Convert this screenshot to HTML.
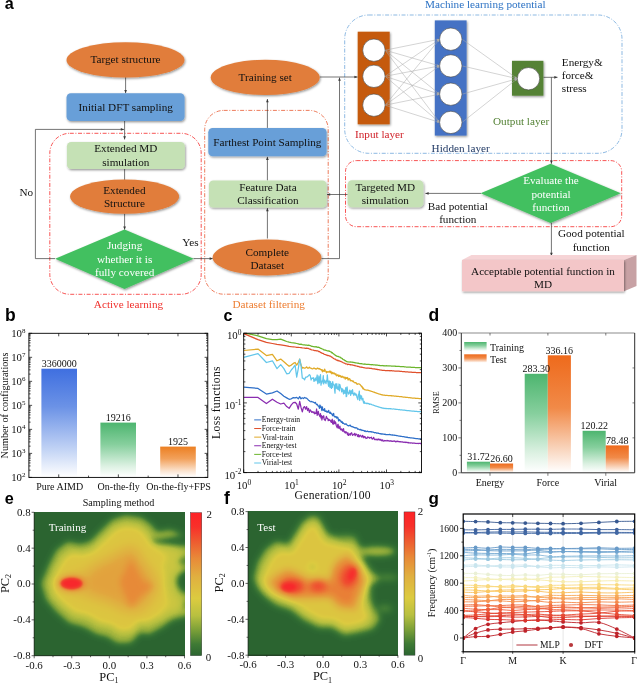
<!DOCTYPE html>
<html><head><meta charset="utf-8"><title>Figure</title>
<style>html,body{margin:0;padding:0;background:#fff}svg{display:block}text{font-family:"Liberation Serif",serif}.sans{font-family:"Liberation Sans",sans-serif;font-weight:bold}</style>
</head><body>
<svg width="637" height="685" viewBox="0 0 637 685">
<defs>
<filter id="sh" x="-10%" y="-20%" width="125%" height="150%"><feDropShadow dx="0.8" dy="1.2" stdDeviation="0.9" flood-color="#000" flood-opacity="0.42"/></filter>
<linearGradient id="gb" x1="0" y1="0" x2="0" y2="1"><stop offset="0" stop-color="#3f6fe0"/><stop offset="0.35" stop-color="#6b92e6"/><stop offset="0.75" stop-color="#c3d4f5"/><stop offset="1" stop-color="#ffffff"/></linearGradient>
<linearGradient id="gg" x1="0" y1="0" x2="0" y2="1"><stop offset="0" stop-color="#4db56f"/><stop offset="0.4" stop-color="#86cf9d"/><stop offset="0.8" stop-color="#dcf1e2"/><stop offset="1" stop-color="#ffffff"/></linearGradient>
<linearGradient id="go" x1="0" y1="0" x2="0" y2="1"><stop offset="0" stop-color="#ec7f22"/><stop offset="0.4" stop-color="#f2a15b"/><stop offset="0.8" stop-color="#fbe3cf"/><stop offset="1" stop-color="#ffffff"/></linearGradient>
<linearGradient id="go2" x1="0" y1="0" x2="0" y2="1"><stop offset="0" stop-color="#ee6a1c"/><stop offset="0.45" stop-color="#f18a48"/><stop offset="0.8" stop-color="#f9d5bd"/><stop offset="1" stop-color="#ffffff"/></linearGradient>
<linearGradient id="cbar" x1="0" y1="0" x2="0" y2="1">
<stop offset="0" stop-color="#fd2226"/><stop offset="0.10" stop-color="#f8302a"/><stop offset="0.20" stop-color="#ee5a30"/><stop offset="0.32" stop-color="#e88a38"/><stop offset="0.45" stop-color="#e0b040"/><stop offset="0.60" stop-color="#dccb40"/><stop offset="0.72" stop-color="#b8c040"/><stop offset="0.82" stop-color="#7ca038"/><stop offset="0.92" stop-color="#3f7a35"/><stop offset="1" stop-color="#2b6531"/></linearGradient>

<filter id="cm" filterUnits="userSpaceOnUse" x="0" y="490" width="440" height="190" color-interpolation-filters="sRGB"><feComponentTransfer><feFuncR type="table" tableValues="0.169 0.193 0.218 0.242 0.295 0.355 0.415 0.474 0.533 0.592 0.651 0.710 0.745 0.775 0.804 0.833 0.863 0.865 0.868 0.871 0.873 0.876 0.878 0.884 0.889 0.894 0.899 0.905 0.910 0.915 0.920 0.925 0.931 0.936 0.941 0.946 0.952 0.957 0.962 0.967 0.973"/><feFuncG type="table" tableValues="0.396 0.422 0.448 0.473 0.508 0.545 0.583 0.620 0.653 0.684 0.715 0.747 0.760 0.769 0.778 0.787 0.796 0.778 0.761 0.743 0.725 0.708 0.690 0.664 0.638 0.612 0.586 0.559 0.533 0.493 0.452 0.412 0.371 0.331 0.290 0.268 0.246 0.224 0.201 0.179 0.157"/><feFuncB type="table" tableValues="0.192 0.197 0.202 0.207 0.210 0.213 0.216 0.219 0.226 0.234 0.242 0.249 0.251 0.251 0.251 0.251 0.251 0.251 0.251 0.251 0.251 0.251 0.251 0.246 0.241 0.235 0.230 0.225 0.220 0.214 0.209 0.204 0.199 0.193 0.188 0.186 0.183 0.180 0.178 0.175 0.173"/></feComponentTransfer></filter>
<filter id="b7" filterUnits="userSpaceOnUse" x="0" y="480" width="440" height="205" color-interpolation-filters="sRGB"><feGaussianBlur stdDeviation="5.5"/></filter>
<filter id="b4" filterUnits="userSpaceOnUse" x="0" y="480" width="440" height="205" color-interpolation-filters="sRGB"><feGaussianBlur stdDeviation="3.2"/></filter>
<filter id="b2" filterUnits="userSpaceOnUse" x="0" y="480" width="440" height="205" color-interpolation-filters="sRGB"><feGaussianBlur stdDeviation="1.8"/></filter>
<clipPath id="ce"><rect x="34.2" y="512.3" width="150.3" height="143.4"/></clipPath>
<clipPath id="cf"><rect x="248.1" y="511.6" width="149.8" height="143.6"/></clipPath>
<clipPath id="cc"><rect x="243.7" y="333" width="177.8" height="139.5"/></clipPath>
<clipPath id="cg"><rect x="463.2" y="514" width="171.5" height="137.8"/></clipPath>
</defs>
<rect width="637" height="685" fill="#fff"/>

<g id="panelA">
<text class="sans" x="4.8" y="9.3" font-size="16.2" fill="#000">a</text>
<rect x="49.8" y="133.3" width="151.4" height="161" rx="20" ry="20" fill="none" stroke="#f52a2a" stroke-width="0.8" stroke-dasharray="4 1.6 1 1.6"/>
<rect x="204.7" y="110.4" width="123.5" height="183.8" rx="19" ry="19" fill="none" stroke="#e85a32" stroke-width="0.8" stroke-dasharray="4 1.6 1 1.6"/>
<rect x="345.5" y="160.6" width="276.2" height="66.1" rx="11" ry="11" fill="none" stroke="#f52a2a" stroke-width="0.8" stroke-dasharray="4 1.6 1 1.6"/>
<rect x="344.7" y="15" width="277.3" height="138.3" rx="24" ry="24" fill="none" stroke="#5b9bd5" stroke-width="0.7" stroke-dasharray="4 1.6 1 1.6"/>
<path d="M125.60,77.00 L125.60,93.20" fill="none" stroke="#3a3a3a" stroke-width="0.7"/>
<path d="M125.60,93.20 L124.26,90.00 L126.94,90.00Z" fill="#3a3a3a"/>
<path d="M124.60,121.00 L124.60,139.40" fill="none" stroke="#3a3a3a" stroke-width="0.7"/>
<path d="M124.60,139.40 L123.26,136.20 L125.94,136.20Z" fill="#3a3a3a"/>
<path d="M55.00,258.60 L35.40,258.60 L35.40,129.40 L124.00,129.40" fill="none" stroke="#3a3a3a" stroke-width="0.7"/>
<path d="M124.00,129.40 L120.80,130.74 L120.80,128.06Z" fill="#3a3a3a"/>
<line x1="124.60" y1="169.00" x2="124.60" y2="180.00" stroke="#3a3a3a" stroke-width="0.7" />
<path d="M124.60,213.50 L124.60,229.80" fill="none" stroke="#3a3a3a" stroke-width="0.7"/>
<path d="M124.60,229.80 L123.26,226.60 L125.94,226.60Z" fill="#3a3a3a"/>
<path d="M193.50,258.60 L212.80,258.60" fill="none" stroke="#3a3a3a" stroke-width="0.7"/>
<path d="M212.80,258.60 L209.60,259.94 L209.60,257.26Z" fill="#3a3a3a"/>
<path d="M267.40,238.50 L267.40,208.00" fill="none" stroke="#3a3a3a" stroke-width="0.7"/>
<path d="M267.40,208.00 L268.74,211.20 L266.06,211.20Z" fill="#3a3a3a"/>
<path d="M267.40,180.50 L267.40,156.80" fill="none" stroke="#3a3a3a" stroke-width="0.7"/>
<path d="M267.40,156.80 L268.74,160.00 L266.06,160.00Z" fill="#3a3a3a"/>
<path d="M267.40,127.90 L267.40,99.00" fill="none" stroke="#3a3a3a" stroke-width="0.7"/>
<path d="M267.40,99.00 L268.74,102.20 L266.06,102.20Z" fill="#3a3a3a"/>
<path d="M319.70,77.00 L357.60,77.00" fill="none" stroke="#3a3a3a" stroke-width="0.7"/>
<path d="M357.60,77.00 L354.40,78.34 L354.40,75.66Z" fill="#3a3a3a"/>
<path d="M321.30,258.60 L339.50,258.60 L339.50,77.60" fill="none" stroke="#3a3a3a" stroke-width="0.7"/>
<path d="M339.50,77.60 L340.84,80.80 L338.16,80.80Z" fill="#3a3a3a"/>
<path d="M347.80,194.50 L327.00,194.50" fill="none" stroke="#3a3a3a" stroke-width="0.7"/>
<path d="M327.00,194.50 L330.20,193.16 L330.20,195.84Z" fill="#3a3a3a"/>
<path d="M481.00,193.40 L425.40,193.40" fill="none" stroke="#3a3a3a" stroke-width="0.7"/>
<path d="M425.40,193.40 L428.60,192.06 L428.60,194.74Z" fill="#3a3a3a"/>
<path d="M543.40,77.30 L557.50,77.30" fill="none" stroke="#3a3a3a" stroke-width="0.7"/>
<path d="M557.50,77.30 L554.30,78.64 L554.30,75.96Z" fill="#3a3a3a"/>
<path d="M551.40,77.30 L551.40,163.80" fill="none" stroke="#3a3a3a" stroke-width="0.7"/>
<path d="M551.40,163.80 L550.06,160.60 L552.74,160.60Z" fill="#3a3a3a"/>
<path d="M551.40,222.60 L551.40,256.00" fill="none" stroke="#3a3a3a" stroke-width="0.7"/>
<path d="M551.40,256.00 L550.06,252.80 L552.74,252.80Z" fill="#3a3a3a"/>
<ellipse cx="125.5" cy="59.9" rx="59" ry="17.7" fill="#e17d3a" filter="url(#sh)"/>
<rect x="66.5" y="93.2" width="118.1" height="27.7" rx="4.3" fill="#689fd8" filter="url(#sh)"/>
<rect x="66.9" y="141.9" width="118" height="27" rx="4.3" fill="#c5e1b5" filter="url(#sh)"/>
<ellipse cx="124.6" cy="196.6" rx="54.5" ry="17.1" fill="#e17d3a" filter="url(#sh)"/>
<path d="M55.1,258.8 L124.5,229.6 L193.8,258.8 L124.5,289Z" fill="#43c060" filter="url(#sh)"/>
<ellipse cx="265.2" cy="77.4" rx="54.5" ry="17.7" fill="#e17d3a" filter="url(#sh)"/>
<rect x="208.3" y="127.9" width="118.3" height="28.3" rx="4.3" fill="#689fd8" filter="url(#sh)"/>
<rect x="208.9" y="180.5" width="117.7" height="27" rx="4.3" fill="#c5e1b5" filter="url(#sh)"/>
<ellipse cx="267" cy="257.5" rx="54.4" ry="17.9" fill="#e17d3a" filter="url(#sh)"/>
<rect x="347.6" y="180.3" width="75.8" height="27" rx="4.3" fill="#c5e1b5" filter="url(#sh)"/>
<path d="M480.6,193.3 L550.6,163.8 L620.8,193.3 L550.6,223Z" fill="#43c060" filter="url(#sh)"/>
<path d="M462,260 L471.5,255 L636.5,255 L624,260Z" fill="#f6d4d6"/>
<path d="M624,260 L636.5,255 L636.5,286 L624,291.3Z" fill="#c7a1a4"/>
<rect x="462" y="260" width="162" height="31.3" fill="#f3c6c8" filter="url(#sh)"/>
<rect x="357.7" y="31.7" width="32" height="92.6" fill="#c55a11" filter="url(#sh)"/>
<rect x="434.8" y="20.4" width="31.8" height="115.2" fill="#4472c4" filter="url(#sh)"/>
<rect x="512" y="60.8" width="31.4" height="34.9" fill="#548235" filter="url(#sh)"/>
<path d="M385.10,50.20 L439.60,39.20" fill="none" stroke="#a8a8a8" stroke-width="0.5"/>
<path d="M439.60,39.20 L437.27,40.78 L436.84,38.64Z" fill="#a8a8a8"/>
<path d="M385.10,50.20 L439.60,65.90" fill="none" stroke="#a8a8a8" stroke-width="0.5"/>
<path d="M439.60,65.90 L436.80,66.23 L437.40,64.13Z" fill="#a8a8a8"/>
<path d="M385.10,50.20 L439.60,94.20" fill="none" stroke="#a8a8a8" stroke-width="0.5"/>
<path d="M439.60,94.20 L436.89,93.42 L438.26,91.72Z" fill="#a8a8a8"/>
<path d="M385.10,50.20 L439.60,122.40" fill="none" stroke="#a8a8a8" stroke-width="0.5"/>
<path d="M439.60,122.40 L437.16,120.98 L438.91,119.67Z" fill="#a8a8a8"/>
<path d="M385.10,76.30 L439.60,39.20" fill="none" stroke="#a8a8a8" stroke-width="0.5"/>
<path d="M439.60,39.20 L438.07,41.57 L436.84,39.76Z" fill="#a8a8a8"/>
<path d="M385.10,76.30 L439.60,65.90" fill="none" stroke="#a8a8a8" stroke-width="0.5"/>
<path d="M439.60,65.90 L437.25,67.46 L436.84,65.31Z" fill="#a8a8a8"/>
<path d="M385.10,76.30 L439.60,94.20" fill="none" stroke="#a8a8a8" stroke-width="0.5"/>
<path d="M439.60,94.20 L436.79,94.43 L437.47,92.35Z" fill="#a8a8a8"/>
<path d="M385.10,76.30 L439.60,122.40" fill="none" stroke="#a8a8a8" stroke-width="0.5"/>
<path d="M439.60,122.40 L436.91,121.55 L438.32,119.89Z" fill="#a8a8a8"/>
<path d="M385.10,105.20 L439.60,39.20" fill="none" stroke="#a8a8a8" stroke-width="0.5"/>
<path d="M439.60,39.20 L438.79,41.90 L437.10,40.51Z" fill="#a8a8a8"/>
<path d="M385.10,105.20 L439.60,65.90" fill="none" stroke="#a8a8a8" stroke-width="0.5"/>
<path d="M439.60,65.90 L438.13,68.31 L436.85,66.53Z" fill="#a8a8a8"/>
<path d="M385.10,105.20 L439.60,94.20" fill="none" stroke="#a8a8a8" stroke-width="0.5"/>
<path d="M439.60,94.20 L437.27,95.78 L436.84,93.64Z" fill="#a8a8a8"/>
<path d="M385.10,105.20 L439.60,122.40" fill="none" stroke="#a8a8a8" stroke-width="0.5"/>
<path d="M439.60,122.40 L436.79,122.66 L437.45,120.58Z" fill="#a8a8a8"/>
<path d="M462.00,39.20 L517.30,78.70" fill="none" stroke="#a8a8a8" stroke-width="0.5"/>
<path d="M517.30,78.70 L514.55,78.08 L515.82,76.30Z" fill="#a8a8a8"/>
<path d="M462.00,65.90 L517.30,78.70" fill="none" stroke="#a8a8a8" stroke-width="0.5"/>
<path d="M517.30,78.70 L514.52,79.18 L515.01,77.05Z" fill="#a8a8a8"/>
<path d="M462.00,94.20 L517.30,78.70" fill="none" stroke="#a8a8a8" stroke-width="0.5"/>
<path d="M517.30,78.70 L515.09,80.45 L514.50,78.35Z" fill="#a8a8a8"/>
<path d="M462.00,122.40 L517.30,78.70" fill="none" stroke="#a8a8a8" stroke-width="0.5"/>
<path d="M517.30,78.70 L515.94,81.17 L514.58,79.46Z" fill="#a8a8a8"/>
<circle cx="373.9" cy="50.2" r="11.2" fill="#fff" stroke="#404040" stroke-width="0.6"/>
<circle cx="373.9" cy="76.3" r="11.2" fill="#fff" stroke="#404040" stroke-width="0.6"/>
<circle cx="373.9" cy="105.2" r="11.2" fill="#fff" stroke="#404040" stroke-width="0.6"/>
<circle cx="450.8" cy="39.2" r="11.2" fill="#fff" stroke="#404040" stroke-width="0.6"/>
<circle cx="450.8" cy="65.9" r="11.2" fill="#fff" stroke="#404040" stroke-width="0.6"/>
<circle cx="450.8" cy="94.2" r="11.2" fill="#fff" stroke="#404040" stroke-width="0.6"/>
<circle cx="450.8" cy="122.4" r="11.2" fill="#fff" stroke="#404040" stroke-width="0.6"/>
<circle cx="528.5" cy="78.7" r="11.2" fill="#fff" stroke="#404040" stroke-width="0.6"/>
<g>
<text x="125.5" y="63.0" font-size="11.2" fill="#111" text-anchor="middle" >Target structure</text>
<text x="125.7" y="111.1" font-size="11.2" fill="#111" text-anchor="middle" >Initial DFT sampling</text>
<text x="125.8" y="152.4" font-size="11.2" fill="#111" text-anchor="middle" >Extended MD</text>
<text x="125.8" y="165.7" font-size="11.2" fill="#111" text-anchor="middle" >simulation</text>
<text x="124.4" y="194.0" font-size="11.2" fill="#111" text-anchor="middle" >Extended</text>
<text x="124.4" y="207.4" font-size="11.2" fill="#111" text-anchor="middle" >Structure</text>
<text x="124.6" y="249.4" font-size="11.2" fill="#fff" text-anchor="middle" >Judging</text>
<text x="124.6" y="262.7" font-size="11.2" fill="#fff" text-anchor="middle" >whether it is</text>
<text x="124.6" y="275.9" font-size="11.2" fill="#fff" text-anchor="middle" >fully covered</text>
<text x="19.5" y="196.2" font-size="11.2" fill="#111" text-anchor="start" >No</text>
<text x="182.3" y="246.4" font-size="11.2" fill="#111" text-anchor="start" >Yes</text>
<text x="265.2" y="80.8" font-size="11.2" fill="#111" text-anchor="middle" >Training set</text>
<text x="267.4" y="145.8" font-size="11.2" fill="#111" text-anchor="middle" >Farthest Point Sampling</text>
<text x="267.9" y="190.8" font-size="11.2" fill="#111" text-anchor="middle" >Feature Data</text>
<text x="267.9" y="204.3" font-size="11.2" fill="#111" text-anchor="middle" >Classification</text>
<text x="267.3" y="255.8" font-size="11.2" fill="#111" text-anchor="middle" >Complete</text>
<text x="267.3" y="269.3" font-size="11.2" fill="#111" text-anchor="middle" >Dataset</text>
<text x="128.5" y="307.6" font-size="11.2" fill="#f0302c" text-anchor="middle" >Active learning</text>
<text x="268.7" y="307.6" font-size="11.2" fill="#ed7d31" text-anchor="middle" >Dataset filtering</text>
<text x="485.3" y="7.7" font-size="11.2" fill="#2c72c4" text-anchor="middle" >Machine learning potential</text>
<text x="355.0" y="137.6" font-size="11.2" fill="#d02028" text-anchor="start" >Input layer</text>
<text x="431.6" y="151.8" font-size="11.2" fill="#1f3864" text-anchor="start" >Hidden layer</text>
<text x="493.0" y="125.3" font-size="11.2" fill="#548235" text-anchor="start" >Output layer</text>
<text x="561.8" y="65.5" font-size="11.2" fill="#111" text-anchor="start" >Energy&amp;</text>
<text x="561.8" y="79.0" font-size="11.2" fill="#111" text-anchor="start" >force&amp;</text>
<text x="561.8" y="92.4" font-size="11.2" fill="#111" text-anchor="start" >stress</text>
<text x="385.3" y="190.8" font-size="11.2" fill="#111" text-anchor="middle" >Targeted MD</text>
<text x="385.3" y="204.2" font-size="11.2" fill="#111" text-anchor="middle" >simulation</text>
<text x="551.0" y="184.0" font-size="11.2" fill="#fff" text-anchor="middle" >Evaluate the</text>
<text x="551.0" y="198.0" font-size="11.2" fill="#fff" text-anchor="middle" >potential</text>
<text x="551.0" y="211.3" font-size="11.2" fill="#fff" text-anchor="middle" >function</text>
<text x="457.8" y="209.6" font-size="11.2" fill="#111" text-anchor="middle" >Bad potential</text>
<text x="457.8" y="222.8" font-size="11.2" fill="#111" text-anchor="middle" >function</text>
<text x="591.3" y="237.3" font-size="11.2" fill="#111" text-anchor="middle" >Good potential</text>
<text x="591.3" y="250.6" font-size="11.2" fill="#111" text-anchor="middle" >function</text>
<text x="543.0" y="274.6" font-size="11.2" fill="#111" text-anchor="middle" >Acceptable potential function in</text>
<text x="543.0" y="288.0" font-size="11.2" fill="#111" text-anchor="middle" >MD</text>
</g>
</g>
<g id="panelB">
<text class="sans" x="5" y="321" font-size="17.5" fill="#000">b</text>
<rect x="41.4" y="368.7" width="35.6" height="108.2" fill="url(#gb)"/>
<text x="59.2" y="366.7" font-size="10" fill="#111" text-anchor="middle" >3360000</text>
<text x="59.7" y="490.1" font-size="10" fill="#111" text-anchor="middle" >Pure AIMD</text>
<rect x="100.4" y="422.6" width="35.6" height="54.3" fill="url(#gg)"/>
<text x="118.2" y="420.6" font-size="10" fill="#111" text-anchor="middle" >19216</text>
<text x="118.7" y="490.1" font-size="10" fill="#111" text-anchor="middle" >On-the-fly</text>
<rect x="160.2" y="446.6" width="35.6" height="30.3" fill="url(#go)"/>
<text x="178.0" y="444.6" font-size="10" fill="#111" text-anchor="middle" >1925</text>
<text x="178.5" y="490.1" font-size="10" fill="#111" text-anchor="middle" >On-the-fly+FPS</text>
<rect x="28.9" y="333.3" width="178.9" height="144.09999999999997" fill="none" stroke="#000" stroke-width="0.9"/>
<text x="25.5" y="480.8" font-size="10.8" fill="#111" text-anchor="end" >10<tspan dy="-4.2" font-size="7">2</tspan></text>
<text x="25.5" y="456.8" font-size="10.8" fill="#111" text-anchor="end" >10<tspan dy="-4.2" font-size="7">3</tspan></text>
<text x="25.5" y="432.8" font-size="10.8" fill="#111" text-anchor="end" >10<tspan dy="-4.2" font-size="7">4</tspan></text>
<text x="25.5" y="408.8" font-size="10.8" fill="#111" text-anchor="end" >10<tspan dy="-4.2" font-size="7">5</tspan></text>
<text x="25.5" y="384.7" font-size="10.8" fill="#111" text-anchor="end" >10<tspan dy="-4.2" font-size="7">6</tspan></text>
<text x="25.5" y="360.7" font-size="10.8" fill="#111" text-anchor="end" >10<tspan dy="-4.2" font-size="7">7</tspan></text>
<text x="25.5" y="336.7" font-size="10.8" fill="#111" text-anchor="end" >10<tspan dy="-4.2" font-size="7">8</tspan></text>
<path d="M28.9,477.40h3.2 M207.8,477.40h-3.2 M28.9,470.17h1.7 M207.8,470.17h-1.7 M28.9,465.94h1.7 M207.8,465.94h-1.7 M28.9,462.94h1.7 M207.8,462.94h-1.7 M28.9,460.61h1.7 M207.8,460.61h-1.7 M28.9,458.71h1.7 M207.8,458.71h-1.7 M28.9,457.10h1.7 M207.8,457.10h-1.7 M28.9,455.71h1.7 M207.8,455.71h-1.7 M28.9,454.48h1.7 M207.8,454.48h-1.7 M28.9,453.38h3.2 M207.8,453.38h-3.2 M28.9,446.15h1.7 M207.8,446.15h-1.7 M28.9,441.92h1.7 M207.8,441.92h-1.7 M28.9,438.92h1.7 M207.8,438.92h-1.7 M28.9,436.60h1.7 M207.8,436.60h-1.7 M28.9,434.69h1.7 M207.8,434.69h-1.7 M28.9,433.09h1.7 M207.8,433.09h-1.7 M28.9,431.69h1.7 M207.8,431.69h-1.7 M28.9,430.47h1.7 M207.8,430.47h-1.7 M28.9,429.37h3.2 M207.8,429.37h-3.2 M28.9,422.14h1.7 M207.8,422.14h-1.7 M28.9,417.91h1.7 M207.8,417.91h-1.7 M28.9,414.91h1.7 M207.8,414.91h-1.7 M28.9,412.58h1.7 M207.8,412.58h-1.7 M28.9,410.68h1.7 M207.8,410.68h-1.7 M28.9,409.07h1.7 M207.8,409.07h-1.7 M28.9,407.68h1.7 M207.8,407.68h-1.7 M28.9,406.45h1.7 M207.8,406.45h-1.7 M28.9,405.35h3.2 M207.8,405.35h-3.2 M28.9,398.12h1.7 M207.8,398.12h-1.7 M28.9,393.89h1.7 M207.8,393.89h-1.7 M28.9,390.89h1.7 M207.8,390.89h-1.7 M28.9,388.56h1.7 M207.8,388.56h-1.7 M28.9,386.66h1.7 M207.8,386.66h-1.7 M28.9,385.05h1.7 M207.8,385.05h-1.7 M28.9,383.66h1.7 M207.8,383.66h-1.7 M28.9,382.43h1.7 M207.8,382.43h-1.7 M28.9,381.33h3.2 M207.8,381.33h-3.2 M28.9,374.10h1.7 M207.8,374.10h-1.7 M28.9,369.87h1.7 M207.8,369.87h-1.7 M28.9,366.87h1.7 M207.8,366.87h-1.7 M28.9,364.55h1.7 M207.8,364.55h-1.7 M28.9,362.64h1.7 M207.8,362.64h-1.7 M28.9,361.04h1.7 M207.8,361.04h-1.7 M28.9,359.64h1.7 M207.8,359.64h-1.7 M28.9,358.42h1.7 M207.8,358.42h-1.7 M28.9,357.32h3.2 M207.8,357.32h-3.2 M28.9,350.09h1.7 M207.8,350.09h-1.7 M28.9,345.86h1.7 M207.8,345.86h-1.7 M28.9,342.86h1.7 M207.8,342.86h-1.7 M28.9,340.53h1.7 M207.8,340.53h-1.7 M28.9,338.63h1.7 M207.8,338.63h-1.7 M28.9,337.02h1.7 M207.8,337.02h-1.7 M28.9,335.63h1.7 M207.8,335.63h-1.7 M28.9,334.40h1.7 M207.8,334.40h-1.7 M28.9,333.30h3.2 M207.8,333.30h-3.2 M58.72,477.4v-3 M58.72,333.3v3 M88.53,477.4v-1.8 M88.53,333.3v1.8 M118.35,477.4v-3 M118.35,333.3v3 M148.17,477.4v-1.8 M148.17,333.3v1.8 M177.98,477.4v-3 M177.98,333.3v3" stroke="#000" stroke-width="0.7" fill="none"/>
<text transform="translate(7.6,405.5) rotate(-90)" font-size="10.2" text-anchor="middle" fill="#111">Number of configurations</text>
<text x="118.5" y="505.6" font-size="10.1" fill="#111" text-anchor="middle" >Sampling method</text>
</g>
<g id="panelC">
<text class="sans" x="223.6" y="320.9" font-size="16" fill="#000">c</text>
<g clip-path="url(#cc)" fill="none" stroke-linejoin="round">
<path d="M243.7,332.8 L258.0,335.8 L266.4,338.7 L272.4,339.7 L277.0,339.6 L280.7,339.2 L283.9,340.4 L286.7,341.5 L289.1,342.2 L291.3,342.7 L293.3,342.9 L295.1,343.2 L296.7,343.5 L298.3,343.9 L299.7,344.4 L301.0,344.1 L302.3,344.6 L303.5,344.8 L304.6,344.9 L305.6,345.1 L306.6,345.0 L307.6,345.3 L308.5,345.2 L309.4,345.4 L310.2,345.6 L311.1,346.0 L311.8,346.4 L312.6,346.4 L313.3,346.7 L314.0,346.7 L314.7,346.8 L315.3,346.8 L316.0,346.6 L316.6,347.1 L317.2,347.2 L317.8,347.4 L318.3,347.2 L318.9,347.3 L319.4,347.7 L320.0,347.9 L320.5,348.3 L321.0,348.4 L321.5,348.7 L321.9,348.7 L322.4,349.0 L322.8,349.2 L323.3,349.3 L323.7,349.8 L324.2,349.8 L324.6,350.1 L325.1,350.0 L325.5,350.1 L326.0,350.3 L326.4,350.5 L326.9,350.7 L327.3,350.8 L327.8,350.8 L328.2,350.8 L328.7,350.9 L329.1,351.3 L329.6,351.1 L330.0,351.5 L330.5,351.8 L330.9,351.8 L331.4,352.3 L331.8,352.8 L332.3,352.6 L332.7,353.2 L333.2,353.6 L333.6,353.8 L334.1,354.4 L334.5,354.6 L335.0,354.8 L335.4,355.4 L335.9,355.6 L336.3,355.9 L336.8,356.2 L337.2,356.3 L337.7,356.4 L338.1,356.4 L338.6,356.7 L339.0,356.8 L339.5,357.0 L339.9,357.1 L340.4,357.4 L340.8,357.7 L341.3,358.2 L341.7,358.2 L342.2,358.5 L342.6,359.0 L343.1,359.5 L343.5,359.7 L344.0,359.8 L344.4,360.0 L344.9,360.6 L345.3,360.7 L345.8,360.9 L346.2,361.4 L346.7,361.6 L347.1,361.7 L347.6,361.8 L348.0,361.9 L348.5,362.0 L348.9,361.9 L349.4,362.0 L349.8,362.0 L350.3,361.9 L350.7,362.2 L351.2,362.2 L351.6,362.2 L352.1,362.1 L352.5,362.2 L353.0,362.5 L353.4,362.3 L353.9,362.5 L354.3,362.7 L354.8,362.5 L355.2,362.9 L355.7,362.9 L356.1,362.9 L356.6,363.0 L357.0,363.1 L357.5,363.1 L357.9,363.3 L358.4,363.2 L358.8,363.3 L359.3,363.5 L359.7,363.5 L360.2,363.5 L360.6,363.7 L361.1,363.8 L361.5,363.7 L362.0,363.7 L362.4,363.9 L362.9,364.0 L363.3,364.0 L363.8,364.2 L364.2,364.0 L364.7,364.3 L365.1,364.1 L365.6,364.2 L366.0,364.3 L366.5,364.4 L366.9,364.4 L367.4,364.4 L367.8,364.4 L368.3,364.4 L368.7,364.4 L369.2,364.4 L369.6,364.5 L370.1,364.5 L370.5,364.5 L371.0,364.6 L371.4,364.6 L371.9,364.8 L372.3,364.7 L372.8,364.7 L373.2,364.8 L373.7,364.8 L374.1,364.9 L374.6,364.9 L375.0,365.0 L375.5,365.1 L375.9,364.9 L376.4,365.0 L376.8,365.2 L377.3,365.2 L377.7,365.2 L378.2,365.3 L378.6,365.4 L379.1,365.4 L379.5,365.4 L380.0,365.6 L380.4,365.5 L380.9,365.5 L381.3,365.6 L381.8,365.6 L382.2,365.6 L382.7,365.5 L383.1,365.7 L383.6,365.8 L384.0,365.7 L384.5,365.8 L384.9,365.8 L385.4,365.8 L385.8,365.9 L386.3,365.7 L386.7,365.8 L387.2,365.8 L387.6,365.9 L388.1,365.9 L388.5,365.8 L389.0,366.0 L389.4,365.9 L389.9,366.0 L390.3,365.9 L390.8,366.0 L391.2,366.1 L391.7,366.0 L392.1,366.1 L392.6,366.1 L393.0,366.1 L393.5,366.1 L393.9,366.2 L394.4,366.2 L394.8,366.2 L395.3,366.3 L395.7,366.2 L396.2,366.3 L396.6,366.3 L397.1,366.3 L397.5,366.4 L398.0,366.4 L398.4,366.4 L398.9,366.4 L399.3,366.4 L399.8,366.5 L400.2,366.5 L400.7,366.5 L401.1,366.6 L401.6,366.7 L402.0,366.7 L402.5,366.7 L402.9,366.7 L403.4,366.7 L403.8,366.7 L404.3,366.8 L404.7,366.9 L405.2,366.8 L405.6,366.9 L406.1,367.0 L406.5,367.0 L407.0,367.0 L407.4,367.0 L407.9,367.0 L408.3,367.1 L408.8,367.1 L409.2,367.1 L409.7,367.2 L410.1,367.2 L410.6,367.2 L411.0,367.3 L411.5,367.3 L411.9,367.3 L412.4,367.3 L412.8,367.4 L413.3,367.4 L413.7,367.4 L414.2,367.4 L414.6,367.4 L415.1,367.5 L415.5,367.5 L416.0,367.5 L416.4,367.5 L416.9,367.6 L417.3,367.6 L417.8,367.6 L418.2,367.6 L418.7,367.6 L419.1,367.6 L419.6,367.7 L420.0,367.7 L420.5,367.7 L420.9,367.7 L421.4,367.7 L421.8,367.7" stroke="#6cb52c" stroke-width="1.25"/>
<path d="M243.7,333.7 L258.0,339.6 L266.4,342.3 L272.4,343.5 L277.0,344.4 L280.7,344.9 L283.9,345.4 L286.7,345.8 L289.1,346.3 L291.3,346.7 L293.3,346.8 L295.1,347.0 L296.7,347.3 L298.3,347.3 L299.7,347.5 L301.0,347.7 L302.3,347.9 L303.5,348.0 L304.6,348.2 L305.6,348.4 L306.6,348.1 L307.6,348.3 L308.5,348.4 L309.4,349.1 L310.2,349.1 L311.1,349.6 L311.8,349.8 L312.6,350.0 L313.3,350.1 L314.0,350.3 L314.7,350.7 L315.3,350.5 L316.0,350.7 L316.6,350.9 L317.2,350.9 L317.8,350.9 L318.3,351.2 L318.9,351.7 L319.4,351.5 L320.0,352.0 L320.5,352.4 L321.0,352.7 L321.5,352.8 L321.9,353.2 L322.4,353.3 L322.8,353.3 L323.3,353.5 L323.7,353.9 L324.2,354.3 L324.6,354.3 L325.1,354.5 L325.5,354.7 L326.0,354.8 L326.4,355.1 L326.9,355.2 L327.3,355.5 L327.8,355.3 L328.2,355.7 L328.7,355.7 L329.1,355.6 L329.6,356.1 L330.0,356.2 L330.5,356.1 L330.9,356.5 L331.4,356.9 L331.8,357.1 L332.3,357.5 L332.7,357.8 L333.2,358.1 L333.6,358.4 L334.1,358.8 L334.5,359.0 L335.0,359.2 L335.4,359.2 L335.9,359.8 L336.3,360.1 L336.8,360.1 L337.2,360.2 L337.7,360.7 L338.1,360.3 L338.6,360.7 L339.0,361.0 L339.5,360.8 L339.9,361.1 L340.4,361.4 L340.8,361.4 L341.3,361.7 L341.7,361.9 L342.2,362.0 L342.6,362.3 L343.1,362.6 L343.5,362.8 L344.0,363.0 L344.4,363.2 L344.9,363.3 L345.3,363.6 L345.8,363.9 L346.2,363.9 L346.7,364.0 L347.1,364.1 L347.6,364.6 L348.0,364.4 L348.5,364.4 L348.9,364.2 L349.4,364.5 L349.8,364.6 L350.3,364.8 L350.7,364.7 L351.2,364.8 L351.6,364.9 L352.1,364.8 L352.5,365.1 L353.0,365.2 L353.4,365.2 L353.9,365.5 L354.3,365.6 L354.8,365.4 L355.2,365.6 L355.7,365.8 L356.1,365.9 L356.6,366.0 L357.0,366.0 L357.5,366.4 L357.9,366.5 L358.4,366.4 L358.8,366.5 L359.3,366.9 L359.7,366.9 L360.2,367.1 L360.6,367.1 L361.1,367.1 L361.5,367.3 L362.0,367.1 L362.4,367.4 L362.9,367.5 L363.3,367.6 L363.8,367.6 L364.2,367.7 L364.7,367.8 L365.1,367.9 L365.6,368.0 L366.0,368.0 L366.5,368.0 L366.9,368.1 L367.4,368.1 L367.8,368.0 L368.3,368.1 L368.7,368.2 L369.2,368.2 L369.6,368.3 L370.1,368.3 L370.5,368.4 L371.0,368.4 L371.4,368.4 L371.9,368.6 L372.3,368.7 L372.8,368.8 L373.2,368.8 L373.7,368.9 L374.1,368.9 L374.6,368.9 L375.0,369.1 L375.5,369.1 L375.9,369.3 L376.4,369.3 L376.8,369.2 L377.3,369.4 L377.7,369.7 L378.2,369.6 L378.6,369.6 L379.1,369.7 L379.5,369.9 L380.0,369.9 L380.4,370.0 L380.9,370.1 L381.3,370.1 L381.8,370.2 L382.2,370.3 L382.7,370.4 L383.1,370.4 L383.6,370.4 L384.0,370.4 L384.5,370.4 L384.9,370.5 L385.4,370.5 L385.8,370.6 L386.3,370.6 L386.7,370.6 L387.2,370.5 L387.6,370.7 L388.1,370.6 L388.5,370.6 L389.0,370.6 L389.4,370.8 L389.9,370.7 L390.3,370.7 L390.8,370.8 L391.2,370.7 L391.7,370.7 L392.1,370.8 L392.6,370.8 L393.0,370.9 L393.5,370.9 L393.9,370.9 L394.4,371.0 L394.8,371.0 L395.3,371.0 L395.7,371.0 L396.2,371.0 L396.6,371.1 L397.1,371.1 L397.5,371.1 L398.0,371.2 L398.4,371.2 L398.9,371.2 L399.3,371.2 L399.8,371.3 L400.2,371.4 L400.7,371.4 L401.1,371.4 L401.6,371.4 L402.0,371.5 L402.5,371.6 L402.9,371.6 L403.4,371.6 L403.8,371.6 L404.3,371.7 L404.7,371.7 L405.2,371.8 L405.6,371.8 L406.1,371.8 L406.5,371.8 L407.0,371.9 L407.4,371.9 L407.9,371.9 L408.3,372.0 L408.8,372.0 L409.2,372.0 L409.7,372.1 L410.1,372.1 L410.6,372.2 L411.0,372.2 L411.5,372.2 L411.9,372.3 L412.4,372.3 L412.8,372.3 L413.3,372.3 L413.7,372.3 L414.2,372.4 L414.6,372.4 L415.1,372.4 L415.5,372.4 L416.0,372.5 L416.4,372.5 L416.9,372.5 L417.3,372.5 L417.8,372.6 L418.2,372.6 L418.7,372.6 L419.1,372.6 L419.6,372.6 L420.0,372.7 L420.5,372.7 L420.9,372.7 L421.4,372.7 L421.8,372.7" stroke="#e0502c" stroke-width="1.25"/>
<path d="M243.7,350.5 L258.0,349.1 L266.4,355.6 L272.4,354.3 L277.0,360.8 L280.7,359.1 L283.9,361.7 L286.7,364.3 L289.1,366.3 L291.3,365.1 L293.3,363.4 L295.1,362.5 L296.7,365.1 L298.3,362.5 L299.7,359.1 L301.0,365.1 L302.3,368.1 L303.5,367.7 L304.6,368.2 L305.6,367.9 L306.6,366.8 L307.6,368.1 L308.5,368.1 L309.4,367.1 L310.2,368.1 L311.1,368.1 L311.8,368.7 L312.6,368.9 L313.3,368.5 L314.0,367.9 L314.7,368.5 L315.3,368.5 L316.0,369.2 L316.6,368.9 L317.2,368.3 L317.8,368.0 L318.3,368.8 L318.9,368.6 L319.4,368.5 L320.0,369.4 L320.5,369.2 L321.0,369.8 L321.5,370.2 L321.9,369.7 L322.4,371.8 L322.8,370.0 L323.3,371.2 L323.7,370.6 L324.2,371.4 L324.6,369.1 L325.1,370.3 L325.5,371.1 L326.0,371.5 L326.4,372.8 L326.9,371.5 L327.3,372.2 L327.8,371.9 L328.2,372.1 L328.7,371.8 L329.1,371.4 L329.6,372.0 L330.0,371.0 L330.5,372.7 L330.9,371.3 L331.4,372.4 L331.8,373.8 L332.3,372.4 L332.7,372.8 L333.2,373.8 L333.6,373.2 L334.1,372.8 L334.5,373.8 L335.0,374.2 L335.4,374.5 L335.9,373.7 L336.3,375.7 L336.8,375.8 L337.2,374.9 L337.7,375.3 L338.1,375.0 L338.6,376.5 L339.0,375.2 L339.5,376.3 L339.9,375.7 L340.4,375.7 L340.8,376.8 L341.3,377.3 L341.7,376.5 L342.2,376.1 L342.6,377.2 L343.1,376.7 L343.5,377.1 L344.0,378.0 L344.4,377.9 L344.9,377.0 L345.3,379.1 L345.8,377.7 L346.2,378.4 L346.7,377.7 L347.1,378.3 L347.6,377.5 L348.0,379.9 L348.5,379.9 L348.9,378.6 L349.4,378.7 L349.8,378.9 L350.3,380.8 L350.7,380.1 L351.2,380.6 L351.6,380.7 L352.1,381.1 L352.5,380.8 L353.0,381.7 L353.4,381.1 L353.9,382.1 L354.3,382.5 L354.8,382.8 L355.2,382.7 L355.7,382.6 L356.1,383.3 L356.6,383.2 L357.0,384.4 L357.5,384.2 L357.9,383.9 L358.4,383.9 L358.8,383.9 L359.3,384.0 L359.7,384.3 L360.2,384.7 L360.6,385.2 L361.1,385.7 L361.5,386.8 L362.0,386.4 L362.4,387.3 L362.9,388.9 L363.3,388.0 L363.8,388.9 L364.2,389.5 L364.7,389.7 L365.1,389.9 L365.6,389.8 L366.0,390.0 L366.5,390.0 L366.9,390.2 L367.4,390.0 L367.8,390.2 L368.3,390.4 L368.7,390.4 L369.2,390.6 L369.6,390.8 L370.1,390.8 L370.5,391.1 L371.0,391.2 L371.4,391.3 L371.9,391.5 L372.3,391.6 L372.8,391.7 L373.2,391.9 L373.7,392.1 L374.1,392.2 L374.6,392.4 L375.0,392.6 L375.5,392.7 L375.9,392.9 L376.4,393.2 L376.8,393.2 L377.3,393.4 L377.7,393.5 L378.2,393.8 L378.6,393.8 L379.1,394.0 L379.5,394.1 L380.0,394.2 L380.4,394.4 L380.9,394.4 L381.3,394.7 L381.8,394.8 L382.2,394.7 L382.7,395.0 L383.1,395.0 L383.6,395.2 L384.0,395.2 L384.5,395.2 L384.9,395.3 L385.4,395.5 L385.8,395.4 L386.3,395.4 L386.7,395.4 L387.2,395.4 L387.6,395.5 L388.1,395.6 L388.5,395.6 L389.0,395.6 L389.4,395.7 L389.9,395.6 L390.3,395.6 L390.8,395.7 L391.2,395.8 L391.7,395.7 L392.1,395.8 L392.6,395.9 L393.0,395.9 L393.5,395.9 L393.9,396.0 L394.4,396.0 L394.8,396.1 L395.3,396.1 L395.7,396.1 L396.2,396.2 L396.6,396.3 L397.1,396.3 L397.5,396.3 L398.0,396.4 L398.4,396.4 L398.9,396.5 L399.3,396.6 L399.8,396.6 L400.2,396.6 L400.7,396.7 L401.1,396.7 L401.6,396.7 L402.0,396.8 L402.5,396.9 L402.9,397.0 L403.4,397.0 L403.8,397.0 L404.3,397.1 L404.7,397.2 L405.2,397.2 L405.6,397.3 L406.1,397.3 L406.5,397.3 L407.0,397.4 L407.4,397.4 L407.9,397.5 L408.3,397.6 L408.8,397.6 L409.2,397.6 L409.7,397.7 L410.1,397.7 L410.6,397.8 L411.0,397.9 L411.5,397.9 L411.9,398.0 L412.4,398.0 L412.8,398.0 L413.3,398.1 L413.7,398.1 L414.2,398.1 L414.6,398.2 L415.1,398.2 L415.5,398.3 L416.0,398.3 L416.4,398.3 L416.9,398.4 L417.3,398.4 L417.8,398.4 L418.2,398.4 L418.7,398.5 L419.1,398.5 L419.6,398.5 L420.0,398.5 L420.5,398.6 L420.9,398.6 L421.4,398.6 L421.8,398.6" stroke="#e0aa28" stroke-width="1.25"/>
<path d="M243.7,357.4 L258.0,353.6 L266.4,362.5 L272.4,360.8 L277.0,368.6 L280.7,364.6 L283.9,368.6 L286.7,373.8 L289.1,373.3 L291.3,370.0 L293.3,367.7 L295.1,365.1 L296.7,377.2 L298.3,368.6 L299.7,359.1 L301.0,365.1 L302.3,378.1 L303.5,378.4 L304.6,379.8 L305.6,377.2 L306.6,377.2 L307.6,376.4 L308.5,375.7 L309.4,374.7 L310.2,375.5 L311.1,380.0 L311.8,378.1 L312.6,378.4 L313.3,377.7 L314.0,381.4 L314.7,380.1 L315.3,378.0 L316.0,380.8 L316.6,378.2 L317.2,375.0 L317.8,383.7 L318.3,380.6 L318.9,376.0 L319.4,382.9 L320.0,380.7 L320.5,374.6 L321.0,385.1 L321.5,381.1 L321.9,383.1 L322.4,381.0 L322.8,380.0 L323.3,375.6 L323.7,383.9 L324.2,381.0 L324.6,380.1 L325.1,382.3 L325.5,381.6 L326.0,383.6 L326.4,380.4 L326.9,381.6 L327.3,374.9 L327.8,380.5 L328.2,384.1 L328.7,386.3 L329.1,380.9 L329.6,381.8 L330.0,387.5 L330.5,381.6 L330.9,385.2 L331.4,388.4 L331.8,383.5 L332.3,387.5 L332.7,381.7 L333.2,384.9 L333.6,384.3 L334.1,385.2 L334.5,388.8 L335.0,393.1 L335.4,383.8 L335.9,384.5 L336.3,388.1 L336.8,383.7 L337.2,388.7 L337.7,389.2 L338.1,387.0 L338.6,389.7 L339.0,384.0 L339.5,390.8 L339.9,384.6 L340.4,387.2 L340.8,387.8 L341.3,388.4 L341.7,391.9 L342.2,389.9 L342.6,388.8 L343.1,391.3 L343.5,394.0 L344.0,390.2 L344.4,391.2 L344.9,393.4 L345.3,391.2 L345.8,387.7 L346.2,396.7 L346.7,396.1 L347.1,386.8 L347.6,391.4 L348.0,392.6 L348.5,394.1 L348.9,393.6 L349.4,391.7 L349.8,390.2 L350.3,393.0 L350.7,395.3 L351.2,390.8 L351.6,391.2 L352.1,393.6 L352.5,389.6 L353.0,393.5 L353.4,393.3 L353.9,395.5 L354.3,393.2 L354.8,393.0 L355.2,394.2 L355.7,395.2 L356.1,394.0 L356.6,395.6 L357.0,397.4 L357.5,398.4 L357.9,399.7 L358.4,394.5 L358.8,395.4 L359.3,391.1 L359.7,400.5 L360.2,395.1 L360.6,397.0 L361.1,398.7 L361.5,395.8 L362.0,399.9 L362.4,399.9 L362.9,398.4 L363.3,401.8 L363.8,403.2 L364.2,401.3 L364.7,403.3 L365.1,403.0 L365.6,403.2 L366.0,403.3 L366.5,403.6 L366.9,403.2 L367.4,403.6 L367.8,403.4 L368.3,403.8 L368.7,403.5 L369.2,403.8 L369.6,404.3 L370.1,404.2 L370.5,404.2 L371.0,404.2 L371.4,404.4 L371.9,404.7 L372.3,404.9 L372.8,405.0 L373.2,405.1 L373.7,405.2 L374.1,405.5 L374.6,405.5 L375.0,405.7 L375.5,406.0 L375.9,406.0 L376.4,406.2 L376.8,406.3 L377.3,406.5 L377.7,406.7 L378.2,406.8 L378.6,406.8 L379.1,407.1 L379.5,407.2 L380.0,407.3 L380.4,407.6 L380.9,407.6 L381.3,407.7 L381.8,407.9 L382.2,408.1 L382.7,408.0 L383.1,408.2 L383.6,408.2 L384.0,408.5 L384.5,408.3 L384.9,408.5 L385.4,408.4 L385.8,408.6 L386.3,408.7 L386.7,408.4 L387.2,408.5 L387.6,408.6 L388.1,408.6 L388.5,408.6 L389.0,408.8 L389.4,408.7 L389.9,408.6 L390.3,408.8 L390.8,408.7 L391.2,408.9 L391.7,408.8 L392.1,408.9 L392.6,409.0 L393.0,409.0 L393.5,408.9 L393.9,409.0 L394.4,409.2 L394.8,409.2 L395.3,409.2 L395.7,409.3 L396.2,409.3 L396.6,409.4 L397.1,409.3 L397.5,409.4 L398.0,409.5 L398.4,409.6 L398.9,409.6 L399.3,409.5 L399.8,409.7 L400.2,409.8 L400.7,409.9 L401.1,409.8 L401.6,409.9 L402.0,409.9 L402.5,410.0 L402.9,410.0 L403.4,410.1 L403.8,410.1 L404.3,410.2 L404.7,410.2 L405.2,410.3 L405.6,410.3 L406.1,410.3 L406.5,410.5 L407.0,410.5 L407.4,410.5 L407.9,410.6 L408.3,410.7 L408.8,410.7 L409.2,410.7 L409.7,410.8 L410.1,410.9 L410.6,410.9 L411.0,410.9 L411.5,411.0 L411.9,411.0 L412.4,411.1 L412.8,411.1 L413.3,411.2 L413.7,411.2 L414.2,411.2 L414.6,411.3 L415.1,411.3 L415.5,411.3 L416.0,411.4 L416.4,411.4 L416.9,411.4 L417.3,411.5 L417.8,411.5 L418.2,411.5 L418.7,411.6 L419.1,411.6 L419.6,411.6 L420.0,411.6 L420.5,411.7 L420.9,411.7 L421.4,411.7 L421.8,411.7" stroke="#62c6ea" stroke-width="1.25"/>
<path d="M243.7,387.2 L258.0,388.4 L266.4,394.1 L272.4,392.8 L277.0,391.0 L280.7,393.6 L283.9,396.2 L286.7,397.9 L289.1,399.3 L291.3,398.8 L293.3,397.6 L295.1,397.9 L296.7,397.4 L298.3,398.8 L299.7,396.7 L301.0,398.8 L302.3,397.8 L303.5,398.5 L304.6,397.4 L305.6,398.1 L306.6,398.2 L307.6,399.1 L308.5,400.2 L309.4,400.8 L310.2,401.5 L311.1,401.8 L311.8,401.4 L312.6,402.0 L313.3,402.1 L314.0,402.5 L314.7,403.0 L315.3,402.3 L316.0,403.8 L316.6,404.5 L317.2,404.2 L317.8,405.4 L318.3,406.2 L318.9,406.1 L319.4,408.3 L320.0,405.0 L320.5,407.3 L321.0,406.4 L321.5,409.0 L321.9,410.7 L322.4,406.9 L322.8,409.4 L323.3,410.0 L323.7,409.6 L324.2,410.6 L324.6,408.6 L325.1,411.4 L325.5,411.3 L326.0,411.2 L326.4,411.0 L326.9,412.2 L327.3,411.4 L327.8,412.2 L328.2,411.7 L328.7,410.4 L329.1,412.4 L329.6,412.7 L330.0,413.4 L330.5,412.2 L330.9,413.2 L331.4,413.9 L331.8,413.8 L332.3,415.0 L332.7,415.8 L333.2,413.9 L333.6,413.5 L334.1,415.9 L334.5,416.8 L335.0,416.7 L335.4,417.0 L335.9,416.4 L336.3,416.7 L336.8,418.2 L337.2,417.4 L337.7,417.2 L338.1,418.2 L338.6,420.8 L339.0,420.8 L339.5,419.6 L339.9,420.0 L340.4,421.0 L340.8,420.8 L341.3,422.4 L341.7,421.9 L342.2,421.7 L342.6,423.4 L343.1,422.7 L343.5,423.5 L344.0,423.7 L344.4,423.8 L344.9,424.4 L345.3,424.2 L345.8,423.8 L346.2,423.9 L346.7,424.6 L347.1,425.0 L347.6,425.5 L348.0,425.6 L348.5,425.9 L348.9,425.7 L349.4,425.4 L349.8,425.6 L350.3,425.1 L350.7,426.0 L351.2,426.4 L351.6,426.6 L352.1,426.5 L352.5,426.6 L353.0,427.2 L353.4,427.0 L353.9,427.4 L354.3,427.5 L354.8,427.5 L355.2,428.1 L355.7,427.6 L356.1,427.8 L356.6,427.9 L357.0,428.1 L357.5,429.0 L357.9,429.3 L358.4,428.9 L358.8,429.2 L359.3,429.6 L359.7,429.6 L360.2,429.9 L360.6,429.3 L361.1,429.7 L361.5,430.1 L362.0,430.6 L362.4,430.3 L362.9,430.2 L363.3,430.5 L363.8,430.5 L364.2,430.6 L364.7,431.3 L365.1,430.8 L365.6,431.1 L366.0,431.7 L366.5,431.5 L366.9,431.3 L367.4,431.1 L367.8,431.4 L368.3,431.7 L368.7,431.6 L369.2,431.8 L369.6,431.6 L370.1,431.7 L370.5,431.7 L371.0,431.9 L371.4,432.1 L371.9,431.7 L372.3,432.0 L372.8,432.2 L373.2,432.1 L373.7,432.3 L374.1,432.5 L374.6,432.8 L375.0,432.7 L375.5,432.7 L375.9,432.6 L376.4,433.2 L376.8,433.0 L377.3,433.1 L377.7,433.0 L378.2,433.3 L378.6,433.2 L379.1,433.5 L379.5,433.6 L380.0,433.7 L380.4,433.8 L380.9,433.7 L381.3,434.1 L381.8,433.9 L382.2,433.8 L382.7,434.1 L383.1,434.1 L383.6,434.1 L384.0,434.2 L384.5,434.4 L384.9,434.2 L385.4,434.4 L385.8,434.6 L386.3,434.5 L386.7,434.5 L387.2,434.5 L387.6,434.5 L388.1,434.6 L388.5,434.7 L389.0,434.6 L389.4,434.4 L389.9,434.7 L390.3,434.7 L390.8,434.9 L391.2,434.8 L391.7,435.0 L392.1,435.2 L392.6,434.9 L393.0,435.0 L393.5,435.0 L393.9,435.0 L394.4,435.1 L394.8,435.4 L395.3,435.3 L395.7,435.3 L396.2,435.4 L396.6,435.7 L397.1,435.6 L397.5,435.7 L398.0,435.8 L398.4,436.0 L398.9,436.1 L399.3,436.1 L399.8,436.1 L400.2,436.2 L400.7,436.4 L401.1,436.4 L401.6,436.4 L402.0,436.5 L402.5,436.6 L402.9,436.6 L403.4,436.7 L403.8,436.7 L404.3,436.8 L404.7,436.8 L405.2,437.1 L405.6,437.1 L406.1,437.0 L406.5,437.3 L407.0,437.3 L407.4,437.2 L407.9,437.6 L408.3,437.6 L408.8,437.7 L409.2,437.6 L409.7,437.7 L410.1,437.8 L410.6,437.9 L411.0,437.9 L411.5,438.0 L411.9,437.9 L412.4,438.0 L412.8,438.1 L413.3,438.2 L413.7,438.2 L414.2,438.4 L414.6,438.4 L415.1,438.4 L415.5,438.5 L416.0,438.5 L416.4,438.6 L416.9,438.7 L417.3,438.7 L417.8,438.7 L418.2,438.8 L418.7,438.8 L419.1,438.9 L419.6,438.9 L420.0,438.9 L420.5,439.0 L420.9,438.9 L421.4,439.0 L421.8,439.0" stroke="#2e6fc8" stroke-width="1.25"/>
<path d="M243.7,397.4 L258.0,397.4 L266.4,403.5 L272.4,399.2 L277.0,402.3 L280.7,404.0 L283.9,403.1 L286.7,406.6 L289.1,408.3 L291.3,404.9 L293.3,402.6 L295.1,402.3 L296.7,404.0 L298.3,409.2 L299.7,401.4 L301.0,407.4 L302.3,411.8 L303.5,407.4 L304.6,406.6 L305.6,409.2 L306.6,406.7 L307.6,410.6 L308.5,408.4 L309.4,412.4 L310.2,409.9 L311.1,411.2 L311.8,412.3 L312.6,411.6 L313.3,412.8 L314.0,411.8 L314.7,413.9 L315.3,413.0 L316.0,413.4 L316.6,409.0 L317.2,415.4 L317.8,413.8 L318.3,411.3 L318.9,414.5 L319.4,415.4 L320.0,416.7 L320.5,413.6 L321.0,418.0 L321.5,415.7 L321.9,420.0 L322.4,416.3 L322.8,417.9 L323.3,416.6 L323.7,415.7 L324.2,419.4 L324.6,419.4 L325.1,420.6 L325.5,419.8 L326.0,417.9 L326.4,416.4 L326.9,418.2 L327.3,418.3 L327.8,418.3 L328.2,420.6 L328.7,420.3 L329.1,419.5 L329.6,420.3 L330.0,420.0 L330.5,420.8 L330.9,421.8 L331.4,422.4 L331.8,420.2 L332.3,419.2 L332.7,423.9 L333.2,422.3 L333.6,424.1 L334.1,420.3 L334.5,422.7 L335.0,423.6 L335.4,421.8 L335.9,423.5 L336.3,425.7 L336.8,426.6 L337.2,427.8 L337.7,424.7 L338.1,424.3 L338.6,427.4 L339.0,428.4 L339.5,427.8 L339.9,426.2 L340.4,429.4 L340.8,429.8 L341.3,429.8 L341.7,428.8 L342.2,430.2 L342.6,431.2 L343.1,429.8 L343.5,428.6 L344.0,431.6 L344.4,432.1 L344.9,431.8 L345.3,433.1 L345.8,431.6 L346.2,432.4 L346.7,432.3 L347.1,433.5 L347.6,434.8 L348.0,432.8 L348.5,435.3 L348.9,434.8 L349.4,434.1 L349.8,433.9 L350.3,435.2 L350.7,433.3 L351.2,433.5 L351.6,432.7 L352.1,434.3 L352.5,435.3 L353.0,434.6 L353.4,434.6 L353.9,434.1 L354.3,434.6 L354.8,433.3 L355.2,435.7 L355.7,434.5 L356.1,434.1 L356.6,434.5 L357.0,434.6 L357.5,436.2 L357.9,436.5 L358.4,434.6 L358.8,436.7 L359.3,436.8 L359.7,435.7 L360.2,435.2 L360.6,435.9 L361.1,436.1 L361.5,437.0 L362.0,436.6 L362.4,435.4 L362.9,437.2 L363.3,436.1 L363.8,437.9 L364.2,436.5 L364.7,437.0 L365.1,436.9 L365.6,437.2 L366.0,438.5 L366.5,438.3 L366.9,438.1 L367.4,438.0 L367.8,436.8 L368.3,437.5 L368.7,437.6 L369.2,437.4 L369.6,438.3 L370.1,437.7 L370.5,437.7 L371.0,437.6 L371.4,437.2 L371.9,438.7 L372.3,439.2 L372.8,438.6 L373.2,438.1 L373.7,437.3 L374.1,438.9 L374.6,439.5 L375.0,439.1 L375.5,439.5 L375.9,439.8 L376.4,439.7 L376.8,439.1 L377.3,439.9 L377.7,439.8 L378.2,439.0 L378.6,439.5 L379.1,439.2 L379.5,439.8 L380.0,440.1 L380.4,439.6 L380.9,439.3 L381.3,440.6 L381.8,440.3 L382.2,440.8 L382.7,439.9 L383.1,440.8 L383.6,441.1 L384.0,441.2 L384.5,440.5 L384.9,440.7 L385.4,440.6 L385.8,440.9 L386.3,440.9 L386.7,440.7 L387.2,440.3 L387.6,440.9 L388.1,440.6 L388.5,440.9 L389.0,440.8 L389.4,441.2 L389.9,441.1 L390.3,440.7 L390.8,441.0 L391.2,441.4 L391.7,440.8 L392.1,441.1 L392.6,441.3 L393.0,441.3 L393.5,441.2 L393.9,440.9 L394.4,440.9 L394.8,441.3 L395.3,441.3 L395.7,441.8 L396.2,441.2 L396.6,441.6 L397.1,441.6 L397.5,441.2 L398.0,441.4 L398.4,441.6 L398.9,441.5 L399.3,441.6 L399.8,441.8 L400.2,441.6 L400.7,441.9 L401.1,441.8 L401.6,441.8 L402.0,442.0 L402.5,441.9 L402.9,442.1 L403.4,442.3 L403.8,442.1 L404.3,442.2 L404.7,442.3 L405.2,442.2 L405.6,442.5 L406.1,442.2 L406.5,442.5 L407.0,442.4 L407.4,442.4 L407.9,442.8 L408.3,442.5 L408.8,442.9 L409.2,442.8 L409.7,442.9 L410.1,442.7 L410.6,443.0 L411.0,443.0 L411.5,442.9 L411.9,443.0 L412.4,443.3 L412.8,443.1 L413.3,443.0 L413.7,443.1 L414.2,443.2 L414.6,443.2 L415.1,443.3 L415.5,443.4 L416.0,443.3 L416.4,443.4 L416.9,443.5 L417.3,443.3 L417.8,443.5 L418.2,443.6 L418.7,443.4 L419.1,443.4 L419.6,443.4 L420.0,443.4 L420.5,443.6 L420.9,443.4 L421.4,443.6 L421.8,443.7" stroke="#8a2db0" stroke-width="1.25"/>
</g>
<rect x="243.7" y="333.2" width="177.8" height="139.40000000000003" fill="none" stroke="#000" stroke-width="0.9"/>
<text x="244.0" y="489.2" font-size="10.8" fill="#111" text-anchor="middle" >10<tspan dy="-4.6" font-size="7.5">0</tspan></text>
<text x="291.6" y="489.2" font-size="10.8" fill="#111" text-anchor="middle" >10<tspan dy="-4.6" font-size="7.5">1</tspan></text>
<text x="339.2" y="489.2" font-size="10.8" fill="#111" text-anchor="middle" >10<tspan dy="-4.6" font-size="7.5">2</tspan></text>
<text x="386.8" y="489.2" font-size="10.8" fill="#111" text-anchor="middle" >10<tspan dy="-4.6" font-size="7.5">3</tspan></text>
<text x="241.5" y="339.4" font-size="10.8" fill="#111" text-anchor="end" >10<tspan dy="-4.6" font-size="7.5">0</tspan></text>
<text x="241.5" y="409.1" font-size="10.8" fill="#111" text-anchor="end" >10<tspan dy="-4.6" font-size="7.5">-1</tspan></text>
<text x="241.5" y="478.8" font-size="10.8" fill="#111" text-anchor="end" >10<tspan dy="-4.6" font-size="7.5">-2</tspan></text>
<path d="M243.70,472.6v-3.2 M243.70,333.2v3.2 M258.03,472.6v-1.7 M258.03,333.2v1.7 M266.41,472.6v-1.7 M266.41,333.2v1.7 M272.36,472.6v-1.7 M272.36,333.2v1.7 M276.97,472.6v-1.7 M276.97,333.2v1.7 M280.74,472.6v-1.7 M280.74,333.2v1.7 M283.93,472.6v-1.7 M283.93,333.2v1.7 M286.69,472.6v-1.7 M286.69,333.2v1.7 M289.12,472.6v-1.7 M289.12,333.2v1.7 M291.30,472.6v-3.2 M291.30,333.2v3.2 M305.63,472.6v-1.7 M305.63,333.2v1.7 M314.01,472.6v-1.7 M314.01,333.2v1.7 M319.96,472.6v-1.7 M319.96,333.2v1.7 M324.57,472.6v-1.7 M324.57,333.2v1.7 M328.34,472.6v-1.7 M328.34,333.2v1.7 M331.53,472.6v-1.7 M331.53,333.2v1.7 M334.29,472.6v-1.7 M334.29,333.2v1.7 M336.72,472.6v-1.7 M336.72,333.2v1.7 M338.90,472.6v-3.2 M338.90,333.2v3.2 M353.23,472.6v-1.7 M353.23,333.2v1.7 M361.61,472.6v-1.7 M361.61,333.2v1.7 M367.56,472.6v-1.7 M367.56,333.2v1.7 M372.17,472.6v-1.7 M372.17,333.2v1.7 M375.94,472.6v-1.7 M375.94,333.2v1.7 M379.13,472.6v-1.7 M379.13,333.2v1.7 M381.89,472.6v-1.7 M381.89,333.2v1.7 M384.32,472.6v-1.7 M384.32,333.2v1.7 M386.50,472.6v-3.2 M386.50,333.2v3.2 M400.83,472.6v-1.7 M400.83,333.2v1.7 M409.21,472.6v-1.7 M409.21,333.2v1.7 M415.16,472.6v-1.7 M415.16,333.2v1.7 M419.77,472.6v-1.7 M419.77,333.2v1.7 M243.7,333.20h3.2 M421.5,333.20h-3.2 M243.7,381.92h1.7 M421.5,381.92h-1.7 M243.7,369.64h1.7 M421.5,369.64h-1.7 M243.7,360.94h1.7 M421.5,360.94h-1.7 M243.7,354.18h1.7 M421.5,354.18h-1.7 M243.7,348.66h1.7 M421.5,348.66h-1.7 M243.7,344.00h1.7 M421.5,344.00h-1.7 M243.7,339.95h1.7 M421.5,339.95h-1.7 M243.7,336.39h1.7 M421.5,336.39h-1.7 M243.7,402.90h3.2 M421.5,402.90h-3.2 M243.7,451.62h1.7 M421.5,451.62h-1.7 M243.7,439.34h1.7 M421.5,439.34h-1.7 M243.7,430.64h1.7 M421.5,430.64h-1.7 M243.7,423.88h1.7 M421.5,423.88h-1.7 M243.7,418.36h1.7 M421.5,418.36h-1.7 M243.7,413.70h1.7 M421.5,413.70h-1.7 M243.7,409.65h1.7 M421.5,409.65h-1.7 M243.7,406.09h1.7 M421.5,406.09h-1.7 M243.7,472.60h3.2 M421.5,472.60h-3.2" stroke="#000" stroke-width="0.7" fill="none"/>
<line x1="254.20" y1="419.90" x2="261.20" y2="419.90" stroke="#2e6fc8" stroke-width="1.0" />
<text x="261.8" y="422.3" font-size="7.6" fill="#111" text-anchor="start" >Energy-train</text>
<line x1="254.20" y1="428.52" x2="261.20" y2="428.52" stroke="#e0502c" stroke-width="1.0" />
<text x="261.8" y="430.9" font-size="7.6" fill="#111" text-anchor="start" >Force-train</text>
<line x1="254.20" y1="437.14" x2="261.20" y2="437.14" stroke="#e0aa28" stroke-width="1.0" />
<text x="261.8" y="439.5" font-size="7.6" fill="#111" text-anchor="start" >Viral-train</text>
<line x1="254.20" y1="445.76" x2="261.20" y2="445.76" stroke="#8a2db0" stroke-width="1.0" />
<text x="261.8" y="448.2" font-size="7.6" fill="#111" text-anchor="start" >Energy-test</text>
<line x1="254.20" y1="454.38" x2="261.20" y2="454.38" stroke="#6cb52c" stroke-width="1.0" />
<text x="261.8" y="456.8" font-size="7.6" fill="#111" text-anchor="start" >Force-test</text>
<line x1="254.20" y1="463.00" x2="261.20" y2="463.00" stroke="#62c6ea" stroke-width="1.0" />
<text x="261.8" y="465.4" font-size="7.6" fill="#111" text-anchor="start" >Virial-test</text>
<text transform="translate(219.6,402.5) rotate(-90)" font-size="11.6" text-anchor="middle" fill="#111" letter-spacing="0.35">Loss functions</text>
<text x="332.7" y="499.3" font-size="11.6" fill="#111" text-anchor="middle" letter-spacing="0.3">Generation/100</text>
</g>
<g id="panelD">
<text class="sans" x="428.5" y="320.7" font-size="17.5" fill="#000">d</text>
<rect x="466.9" y="461.7" width="23.1" height="10.7" fill="url(#gg)"/>
<rect x="490.0" y="463.5" width="23.1" height="8.9" fill="url(#go2)"/>
<text x="478.4" y="460.1" font-size="10" fill="#111" text-anchor="middle" >31.72</text>
<text x="501.6" y="461.9" font-size="10" fill="#111" text-anchor="middle" >26.60</text>
<text x="490.0" y="485.8" font-size="10" fill="#111" text-anchor="middle" >Energy</text>
<rect x="524.7" y="373.8" width="23.1" height="98.6" fill="url(#gg)"/>
<rect x="547.8" y="355.3" width="23.1" height="117.1" fill="url(#go2)"/>
<text x="536.2" y="372.2" font-size="10" fill="#111" text-anchor="middle" >283.30</text>
<text x="559.3" y="353.7" font-size="10" fill="#111" text-anchor="middle" >336.16</text>
<text x="547.8" y="485.8" font-size="10" fill="#111" text-anchor="middle" >Force</text>
<rect x="582.6" y="430.8" width="23.1" height="41.6" fill="url(#gg)"/>
<rect x="605.7" y="445.4" width="23.1" height="27.0" fill="url(#go2)"/>
<text x="594.2" y="429.2" font-size="10" fill="#111" text-anchor="middle" >120.22</text>
<text x="617.2" y="443.8" font-size="10" fill="#111" text-anchor="middle" >78.48</text>
<text x="605.7" y="485.8" font-size="10" fill="#111" text-anchor="middle" >Virial</text>
<path d="M461.3,333H634.7" fill="none" stroke="#8c8c8c" stroke-width="1.1"/>
<path d="M461.3,333V472.8H634.7V333" fill="none" stroke="#2e2e2e" stroke-width="1"/>
<text x="457.3" y="476.1" font-size="10" fill="#111" text-anchor="end" >0</text>
<text x="457.3" y="441.2" font-size="10" fill="#111" text-anchor="end" >100</text>
<text x="457.3" y="406.2" font-size="10" fill="#111" text-anchor="end" >200</text>
<text x="457.3" y="371.2" font-size="10" fill="#111" text-anchor="end" >300</text>
<text x="457.3" y="336.3" font-size="10" fill="#111" text-anchor="end" >400</text>
<path d="M461.3,472.80h-3 M461.3,455.32h-1.8 M461.3,437.85h-3 M634.7,437.85h-2.2 M461.3,420.38h-1.8 M461.3,402.90h-3 M634.7,402.90h-2.2 M461.3,385.42h-1.8 M461.3,367.95h-3 M634.7,367.95h-2.2 M461.3,350.47h-1.8 M461.3,333.00h-3 M490.00,472.8v3 M490.00,333v2.5 M547.90,472.8v3 M547.90,333v2.5 M605.80,472.8v3 M605.80,333v2.5" stroke="#444" stroke-width="0.7" fill="none"/>
<rect x="464.2" y="342" width="22.4" height="9" fill="url(#gg)"/>
<rect x="464.2" y="354.3" width="22.4" height="8.4" fill="url(#go2)"/>
<text x="490.0" y="351.0" font-size="10" fill="#111" text-anchor="start" >Training</text>
<text x="490.0" y="363.0" font-size="10" fill="#111" text-anchor="start" >Test</text>
<text transform="translate(438.8,402.5) rotate(-90)" font-size="8.2" text-anchor="middle" fill="#111">RMSE</text>
</g>
<g id="panelE">
<text class="sans" x="4.7" y="503.8" font-size="16.2" fill="#000">e</text>
<g clip-path="url(#ce)"><g filter="url(#cm)">
<rect x="14.200000000000003" y="492.29999999999995" width="190.3" height="183.4" fill="#000"/>
<g filter="url(#b4)">
<rect x="4.200000000000003" y="482.29999999999995" width="1" height="1" fill="#000" opacity="0"/>
<polygon points="41.1,583.4 48.8,565.3 56.4,550.2 67.7,541.7 80.3,544.2 89.8,541.7 101.9,529.6 112.4,519.6 125.5,515.3 141.8,517.8 152.1,525.6 156.4,531.9 170.7,530.1 190.8,538.2 190.8,614.8 172.0,620.1 161.9,627.3 148.6,634.4 140.6,632.6 131.0,642.7 117.4,643.2 106.9,636.6 97.3,634.4 84.0,627.1 69.2,623.1 56.1,611.5 46.3,600.0" fill="rgb(64,64,64)" opacity="1"/>
<polygon points="190.8,535.1 173.2,537.1 155.1,540.2 148.1,541.7 155.6,543.7 173.2,544.7 190.8,546.2" fill="rgb(0,0,0)" opacity="1"/>
<polygon points="190.8,567.8 179.7,573.8 176.2,582.1 180.3,590.4 190.8,595.4" fill="rgb(0,0,0)" opacity="1"/>
<polygon points="190.8,557.2 177.0,559.3 170.7,561.3 178.2,563.3 190.8,564.8" fill="rgb(15,15,15)" opacity="1"/>
<polygon points="190.8,601.5 178.2,604.5 190.8,608.0" fill="rgb(20,20,20)" opacity="1"/>
</g>
<g filter="url(#b4)">
<rect x="4.200000000000003" y="482.29999999999995" width="1" height="1" fill="#000" opacity="0"/>
<polygon points="155.6,545.7 170.7,548.2 182.3,552.2 177.0,562.0 180.8,568.3 173.2,573.8 172.2,583.4 175.7,593.4 181.8,600.5 179.7,609.5 167.7,614.0 158.1,620.1 150.6,583.4" fill="rgb(87,87,87)" opacity="1"/>
<polygon points="51.1,583.4 57.1,569.8 63.7,558.3 71.7,552.2 82.3,554.0 92.8,550.7 105.4,538.7 115.4,529.1 125.5,525.6 138.5,527.6 145.6,534.1 150.1,541.7 158.6,549.7 166.9,555.7 163.2,565.8 164.7,575.3 162.7,583.4 165.7,593.4 168.7,603.5 163.2,610.5 155.6,618.6 147.1,623.1 140.1,621.6 130.5,631.1 119.9,631.6 111.4,625.6 99.8,623.1 87.8,616.0 73.7,612.5 62.7,603.5 54.6,594.9" fill="rgb(110,110,110)" opacity="1"/>
</g>
<g filter="url(#b7)">
<rect x="4.200000000000003" y="482.29999999999995" width="1" height="1" fill="#000" opacity="0"/>
<polygon points="60.2,583.4 70.2,573.8 82.8,570.8 95.8,562.0 112.9,553.2 126.7,545.7 135.5,545.7 143.1,558.3 153.1,572.1 160.7,585.9 151.9,602.2 140.6,613.5 125.5,613.5 112.9,606.5 97.8,601.5 82.8,595.9 70.2,592.2" fill="rgb(135,135,135)" opacity="1"/>
<polygon points="81.5,583.4 94.8,567.8 112.9,559.5 126.7,551.2 134.3,548.2 140.6,559.5 150.6,573.8 155.1,585.9 148.1,600.5 138.0,608.0 125.5,608.0 112.9,600.5 97.8,595.4 85.8,590.4" fill="rgb(153,153,153)" opacity="1"/>
</g>
<g filter="url(#b4)">
<rect x="4.200000000000003" y="482.29999999999995" width="1" height="1" fill="#000" opacity="0"/>
<polygon points="131.0,558.3 142.6,579.9 153.6,585.9 141.1,595.9 131.0,608.0 123.0,591.4 119.4,581.4" fill="rgb(176,176,176)" opacity="1"/>
<ellipse cx="71.5" cy="583.4" rx="13.6" ry="7.5" fill="rgb(194,194,194)"/>
</g>
<g filter="url(#b2)">
<rect x="4.200000000000003" y="482.29999999999995" width="1" height="1" fill="#000" opacity="0"/>
<ellipse cx="71.5" cy="583.4" rx="10.6" ry="5.5" fill="rgb(247,247,247)"/>
<ellipse cx="71.5" cy="583.4" rx="7.5" ry="3.5" fill="rgb(255,255,255)"/>
</g>
</g></g>
<text x="30.6" y="515.7" font-size="10.9" fill="#111" text-anchor="end" >0.8</text>
<text x="30.6" y="551.5" font-size="10.9" fill="#111" text-anchor="end" >0.4</text>
<text x="30.6" y="587.4" font-size="10.9" fill="#111" text-anchor="end" >0.0</text>
<text x="30.6" y="623.2" font-size="10.9" fill="#111" text-anchor="end" >-0.4</text>
<text x="30.6" y="659.1" font-size="10.9" fill="#111" text-anchor="end" >-0.8</text>
<text x="34.2" y="668.8" font-size="10.9" fill="#111" text-anchor="middle" >-0.6</text>
<text x="71.8" y="668.8" font-size="10.9" fill="#111" text-anchor="middle" >-0.3</text>
<text x="109.4" y="668.8" font-size="10.9" fill="#111" text-anchor="middle" >0.0</text>
<text x="146.9" y="668.8" font-size="10.9" fill="#111" text-anchor="middle" >0.3</text>
<text x="184.5" y="668.8" font-size="10.9" fill="#111" text-anchor="middle" >0.6</text>
<path d="M34.2,512.30h-2.6 M34.2,530.22h-1.5 M34.2,548.15h-2.6 M34.2,566.07h-1.5 M34.2,584.00h-2.6 M34.2,601.92h-1.5 M34.2,619.85h-2.6 M34.2,637.77h-1.5 M34.2,655.70h-2.6 M34.20,655.6999999999999v2.6 M52.99,655.6999999999999v1.5 M71.78,655.6999999999999v2.6 M90.56,655.6999999999999v1.5 M109.35,655.6999999999999v2.6 M128.14,655.6999999999999v1.5 M146.93,655.6999999999999v2.6 M165.71,655.6999999999999v1.5 M184.50,655.6999999999999v2.6" stroke="#222" stroke-width="0.7" fill="none"/>
<path d="M34.2,512.3V655.6999999999999H184.5" fill="none" stroke="#1e2a1e" stroke-width="0.8"/>
<rect x="190.4" y="512.5999999999999" width="11.4" height="143.1" fill="url(#cbar)" stroke="#333" stroke-width="0.4"/>
<text x="206.6" y="518.4" font-size="10.9" fill="#111" text-anchor="start" >2</text>
<text x="205.8" y="660.8" font-size="10.9" fill="#111" text-anchor="start" >0</text>
<text x="48.7" y="531.2" font-size="11" fill="#fff" text-anchor="start" >Training</text>
<text x="108.9" y="680.7" font-size="12.4" fill="#111" text-anchor="middle" >PC<tspan dy="2.6" font-size="8">1</tspan></text>
<text transform="translate(8.600000000000001,583.5) rotate(-90)" font-size="12.4" text-anchor="middle" fill="#111">PC<tspan dy="2.6" font-size="8">2</tspan></text>
</g>
<g id="panelF">
<text class="sans" x="224" y="504" font-size="17.5" fill="#000">f</text>
<g clip-path="url(#cf)"><g filter="url(#cm)">
<rect x="228.1" y="491.6" width="189.8" height="183.6" fill="#000"/>
<g filter="url(#b4)">
<rect x="218.1" y="481.6" width="1" height="1" fill="#000" opacity="0"/>
<polygon points="253.5,578.4 257.8,562.3 265.6,549.2 276.2,541.4 288.2,543.9 294.3,534.6 302.3,521.8 311.3,515.5 318.9,517.0 323.9,526.8 328.9,534.4 340.0,536.4 355.1,538.9 361.1,547.4 363.6,558.8 371.1,570.6 380.2,578.4 371.1,586.1 370.6,598.5 374.2,608.5 380.2,618.6 373.1,629.1 360.1,632.4 344.5,635.4 331.4,627.8 318.9,627.8 303.5,620.3 291.0,610.3 275.9,605.2 265.6,597.4 257.8,589.2" fill="rgb(64,64,64)" opacity="1"/>
<ellipse cx="377.2" cy="551.2" rx="18.1" ry="4.5" fill="rgb(69,69,69)"/>
<ellipse cx="387.2" cy="577.3" rx="11.3" ry="2.3" fill="rgb(41,41,41)"/>
<ellipse cx="345.8" cy="538.2" rx="11.1" ry="3.3" fill="rgb(46,46,46)"/>
<ellipse cx="384.7" cy="608.5" rx="7.5" ry="3.0" fill="rgb(36,36,36)"/>
</g>
<g filter="url(#b4)">
<rect x="218.1" y="481.6" width="1" height="1" fill="#000" opacity="0"/>
<polygon points="261.6,578.9 266.6,566.8 272.6,556.2 280.2,550.2 291.7,552.0 298.8,540.7 305.8,529.4 311.8,524.1 316.9,526.1 320.4,533.9 325.4,541.4 339.0,544.7 351.5,546.7 356.1,553.7 357.8,562.3 364.6,572.3 370.1,578.4 363.6,584.4 363.1,598.5 365.6,608.5 369.1,617.0 365.1,622.6 357.6,625.1 345.0,627.6 333.4,620.6 320.9,620.1 306.8,612.5 294.3,603.0 279.7,597.9 269.6,592.2 264.1,585.9" fill="rgb(110,110,110)" opacity="1"/>
<ellipse cx="312.3" cy="567.0" rx="4.0" ry="3.0" fill="rgb(76,76,76)"/>
</g>
<g filter="url(#b4)">
<rect x="218.1" y="481.6" width="1" height="1" fill="#000" opacity="0"/>
<polygon points="267.1,581.9 274.7,573.8 287.2,567.8 296.3,570.8 308.1,577.3 322.4,576.8 329.4,578.4 330.9,569.3 336.0,559.3 347.5,553.2 360.1,565.3 366.6,580.9 361.6,595.9 355.6,611.0 339.0,609.0 328.4,599.0 319.4,599.5 293.2,599.5 274.7,591.9" fill="rgb(153,153,153)" opacity="1"/>
<polygon points="273.6,583.4 286.7,573.3 295.8,575.8 307.3,581.4 322.4,581.4 331.4,582.4 335.5,567.8 347.0,558.8 357.1,568.8 361.6,580.9 356.6,592.9 351.5,605.0 340.5,603.0 331.9,594.9 319.4,595.4 294.3,595.4 278.2,589.9" fill="rgb(184,184,184)" opacity="1"/>
</g>
<g filter="url(#b4)">
<rect x="218.1" y="481.6" width="1" height="1" fill="#000" opacity="0"/>
<ellipse cx="291.7" cy="586.4" rx="11.6" ry="6.3" fill="rgb(230,230,230)"/>
<ellipse cx="318.1" cy="586.4" rx="8.0" ry="4.8" fill="rgb(219,219,219)"/>
<ellipse cx="349.5" cy="576.3" rx="7.5" ry="11.1" fill="rgb(224,224,224)" transform="rotate(22 349.5 576.3)"/>
</g>
<g filter="url(#b2)">
<rect x="218.1" y="481.6" width="1" height="1" fill="#000" opacity="0"/>
<ellipse cx="289.2" cy="586.9" rx="7.0" ry="3.8" fill="rgb(255,255,255)"/>
<ellipse cx="351.5" cy="574.8" rx="3.3" ry="6.0" fill="rgb(247,247,247)" transform="rotate(22 351.5 574.8)"/>
</g>
</g></g>
<text x="244.5" y="515.0" font-size="10.9" fill="#111" text-anchor="end" >0.8</text>
<text x="244.5" y="550.9" font-size="10.9" fill="#111" text-anchor="end" >0.4</text>
<text x="244.5" y="586.8" font-size="10.9" fill="#111" text-anchor="end" >0.0</text>
<text x="244.5" y="622.7" font-size="10.9" fill="#111" text-anchor="end" >-0.4</text>
<text x="244.5" y="658.6" font-size="10.9" fill="#111" text-anchor="end" >-0.8</text>
<text x="248.1" y="668.3" font-size="10.9" fill="#111" text-anchor="middle" >-0.6</text>
<text x="285.6" y="668.3" font-size="10.9" fill="#111" text-anchor="middle" >-0.3</text>
<text x="323.0" y="668.3" font-size="10.9" fill="#111" text-anchor="middle" >0.0</text>
<text x="360.4" y="668.3" font-size="10.9" fill="#111" text-anchor="middle" >0.3</text>
<text x="397.9" y="668.3" font-size="10.9" fill="#111" text-anchor="middle" >0.6</text>
<path d="M248.1,511.60h-2.6 M248.1,529.55h-1.5 M248.1,547.50h-2.6 M248.1,565.45h-1.5 M248.1,583.40h-2.6 M248.1,601.35h-1.5 M248.1,619.30h-2.6 M248.1,637.25h-1.5 M248.1,655.20h-2.6 M248.10,655.2v2.6 M266.82,655.2v1.5 M285.55,655.2v2.6 M304.28,655.2v1.5 M323.00,655.2v2.6 M341.73,655.2v1.5 M360.45,655.2v2.6 M379.18,655.2v1.5 M397.90,655.2v2.6" stroke="#222" stroke-width="0.7" fill="none"/>
<path d="M248.1,511.6V655.2H397.9" fill="none" stroke="#1e2a1e" stroke-width="0.8"/>
<rect x="404" y="511.90000000000003" width="11" height="143.29999999999998" fill="url(#cbar)" stroke="#333" stroke-width="0.4"/>
<text x="417.8" y="514.8" font-size="10.9" fill="#111" text-anchor="start" >2</text>
<text x="417.7" y="661.5" font-size="10.9" fill="#111" text-anchor="start" >0</text>
<text x="257.3" y="531.0" font-size="11" fill="#fff" text-anchor="start" >Test</text>
<text x="322.5" y="680.2" font-size="12.4" fill="#111" text-anchor="middle" >PC<tspan dy="2.6" font-size="8">1</tspan></text>
<text transform="translate(222.5,582.9) rotate(-90)" font-size="12.4" text-anchor="middle" fill="#111">PC<tspan dy="2.6" font-size="8">2</tspan></text>
</g>
<g id="panelG">
<text class="sans" x="428.6" y="503.7" font-size="17" fill="#000">g</text>
<path d="M512.7,514V651.8 M563.1,514V651.8" stroke="#ccc" stroke-width="0.5"/>
<g clip-path="url(#cg)">
<path d="M463.2,638.0C465.2,637.8 471.6,636.9 475.6,636.6C479.5,636.4 484.0,636.7 488.0,636.3C491.9,635.9 496.4,635.0 500.3,634.3C504.3,633.6 508.7,632.5 512.7,632.0C516.7,631.4 521.3,631.3 525.3,630.9C529.3,630.4 533.9,629.6 537.9,629.2C541.9,628.7 546.5,628.3 550.5,628.0C554.5,627.7 558.2,627.1 563.1,627.2C568.0,627.3 575.3,627.5 581.0,628.5C586.7,629.6 593.2,632.5 598.9,633.8C604.6,635.0 611.1,635.6 616.8,636.3C622.5,637.0 631.8,637.7 634.7,638.0" fill="none" stroke="#be232a" stroke-width="0.9"/>
<g fill="#be232a"><circle cx="463.2" cy="638.0" r="1.9"/><circle cx="475.6" cy="636.6" r="1.9"/><circle cx="488.0" cy="636.3" r="1.9"/><circle cx="500.3" cy="634.3" r="1.9"/><circle cx="512.7" cy="632.0" r="1.9"/><circle cx="525.3" cy="630.9" r="1.9"/><circle cx="537.9" cy="629.2" r="1.9"/><circle cx="550.5" cy="628.0" r="1.9"/><circle cx="563.1" cy="627.2" r="1.9"/><circle cx="581.0" cy="628.5" r="1.9"/><circle cx="598.9" cy="633.8" r="1.9"/><circle cx="616.8" cy="636.3" r="1.9"/><circle cx="634.7" cy="638.0" r="1.9"/></g>
<path d="M463.2,638.0C465.2,637.2 471.6,634.5 475.6,633.2C479.5,631.9 484.0,630.6 488.0,629.9C491.9,629.3 496.4,629.4 500.3,629.2C504.3,629.1 508.7,629.2 512.7,629.1C516.7,629.0 521.3,628.9 525.3,628.8C529.3,628.6 533.9,628.4 537.9,628.3C541.9,628.1 546.5,627.9 550.5,627.7C554.5,627.5 558.2,627.0 563.1,627.0C568.0,627.0 575.3,627.3 581.0,627.7C586.7,628.2 593.2,629.0 598.9,629.9C604.6,630.8 611.1,632.0 616.8,633.3C622.5,634.6 631.8,637.3 634.7,638.0" fill="none" stroke="#be232a" stroke-width="0.9"/>
<g fill="#be232a"><circle cx="463.2" cy="638.0" r="1.9"/><circle cx="475.6" cy="633.2" r="1.9"/><circle cx="488.0" cy="629.9" r="1.9"/><circle cx="500.3" cy="629.2" r="1.9"/><circle cx="512.7" cy="629.1" r="1.9"/><circle cx="525.3" cy="628.8" r="1.9"/><circle cx="537.9" cy="628.3" r="1.9"/><circle cx="550.5" cy="627.7" r="1.9"/><circle cx="563.1" cy="627.0" r="1.9"/><circle cx="581.0" cy="627.7" r="1.9"/><circle cx="598.9" cy="629.9" r="1.9"/><circle cx="616.8" cy="633.3" r="1.9"/><circle cx="634.7" cy="638.0" r="1.9"/></g>
<path d="M463.2,638.0C465.2,636.5 471.6,630.8 475.6,628.6C479.5,626.4 484.0,625.2 488.0,624.3C491.9,623.4 496.4,623.2 500.3,622.8C504.3,622.4 508.7,621.9 512.7,621.6C516.7,621.2 521.3,620.8 525.3,620.5C529.3,620.3 533.9,619.9 537.9,620.0C541.9,620.0 546.5,620.6 550.5,620.9C554.5,621.2 558.2,621.6 563.1,621.9C568.0,622.2 575.3,622.7 581.0,622.8C586.7,622.9 593.2,621.4 598.9,622.4C604.6,623.4 611.1,626.6 616.8,629.1C622.5,631.6 631.8,636.6 634.7,638.0" fill="none" stroke="#be232a" stroke-width="0.9"/>
<g fill="#be232a"><circle cx="463.2" cy="638.0" r="1.9"/><circle cx="475.6" cy="628.6" r="1.9"/><circle cx="488.0" cy="624.3" r="1.9"/><circle cx="500.3" cy="622.8" r="1.9"/><circle cx="512.7" cy="621.6" r="1.9"/><circle cx="525.3" cy="620.5" r="1.9"/><circle cx="537.9" cy="620.0" r="1.9"/><circle cx="550.5" cy="620.9" r="1.9"/><circle cx="563.1" cy="621.9" r="1.9"/><circle cx="581.0" cy="622.8" r="1.9"/><circle cx="598.9" cy="622.4" r="1.9"/><circle cx="616.8" cy="629.1" r="1.9"/><circle cx="634.7" cy="638.0" r="1.9"/></g>
<path d="M463.2,616.4C465.2,616.4 471.6,616.5 475.6,616.6C479.5,616.6 484.0,616.7 488.0,616.7C491.9,616.7 496.4,616.4 500.3,616.5C504.3,616.6 508.7,617.0 512.7,617.1C516.7,617.2 521.3,617.1 525.3,616.9C529.3,616.8 533.9,616.6 537.9,616.4C541.9,616.2 546.5,615.9 550.5,615.8C554.5,615.7 558.2,615.7 563.1,615.7C568.0,615.8 575.3,616.2 581.0,616.2C586.7,616.3 593.2,616.1 598.9,616.1C604.6,616.1 611.1,616.1 616.8,616.2C622.5,616.2 631.8,616.4 634.7,616.4" fill="none" stroke="#df3e30" stroke-width="0.9"/>
<g fill="#df3e30"><circle cx="463.2" cy="616.4" r="1.9"/><circle cx="475.6" cy="616.6" r="1.9"/><circle cx="488.0" cy="616.7" r="1.9"/><circle cx="500.3" cy="616.5" r="1.9"/><circle cx="512.7" cy="617.1" r="1.9"/><circle cx="525.3" cy="616.9" r="1.9"/><circle cx="537.9" cy="616.4" r="1.9"/><circle cx="550.5" cy="615.8" r="1.9"/><circle cx="563.1" cy="615.7" r="1.9"/><circle cx="581.0" cy="616.2" r="1.9"/><circle cx="598.9" cy="616.1" r="1.9"/><circle cx="616.8" cy="616.2" r="1.9"/><circle cx="634.7" cy="616.4" r="1.9"/></g>
<path d="M463.2,616.2C465.2,616.3 471.6,616.6 475.6,616.5C479.5,616.5 484.0,616.0 488.0,615.9C491.9,615.7 496.4,615.9 500.3,615.7C504.3,615.6 508.7,615.2 512.7,615.1C516.7,614.9 521.3,614.9 525.3,615.0C529.3,615.2 533.9,615.6 537.9,616.0C541.9,616.4 546.5,617.4 550.5,617.7C554.5,617.9 558.2,617.6 563.1,617.5C568.0,617.3 575.3,616.9 581.0,616.7C586.7,616.5 593.2,616.3 598.9,616.3C604.6,616.2 611.1,616.2 616.8,616.2C622.5,616.2 631.8,616.2 634.7,616.2" fill="none" stroke="#e03f30" stroke-width="0.9"/>
<g fill="#e03f30"><circle cx="463.2" cy="616.2" r="1.9"/><circle cx="475.6" cy="616.5" r="1.9"/><circle cx="488.0" cy="615.9" r="1.9"/><circle cx="500.3" cy="615.7" r="1.9"/><circle cx="512.7" cy="615.1" r="1.9"/><circle cx="525.3" cy="615.0" r="1.9"/><circle cx="537.9" cy="616.0" r="1.9"/><circle cx="550.5" cy="617.7" r="1.9"/><circle cx="563.1" cy="617.5" r="1.9"/><circle cx="581.0" cy="616.7" r="1.9"/><circle cx="598.9" cy="616.3" r="1.9"/><circle cx="616.8" cy="616.2" r="1.9"/><circle cx="634.7" cy="616.2" r="1.9"/></g>
<path d="M463.2,617.5C465.2,617.6 471.6,617.9 475.6,618.3C479.5,618.6 484.0,619.1 488.0,619.3C491.9,619.6 496.4,619.5 500.3,619.6C504.3,619.7 508.7,619.9 512.7,620.1C516.7,620.2 521.3,620.5 525.3,620.5C529.3,620.5 533.9,620.3 537.9,620.2C541.9,620.1 546.5,620.0 550.5,619.9C554.5,619.8 558.2,619.5 563.1,619.5C568.0,619.5 575.3,619.9 581.0,619.8C586.7,619.6 593.2,618.8 598.9,618.5C604.6,618.2 611.1,618.0 616.8,617.8C622.5,617.7 631.8,617.5 634.7,617.5" fill="none" stroke="#da342c" stroke-width="0.9"/>
<g fill="#da342c"><circle cx="463.2" cy="617.5" r="1.9"/><circle cx="475.6" cy="618.3" r="1.9"/><circle cx="488.0" cy="619.3" r="1.9"/><circle cx="500.3" cy="619.6" r="1.9"/><circle cx="512.7" cy="620.1" r="1.9"/><circle cx="525.3" cy="620.5" r="1.9"/><circle cx="537.9" cy="620.2" r="1.9"/><circle cx="550.5" cy="619.9" r="1.9"/><circle cx="563.1" cy="619.5" r="1.9"/><circle cx="581.0" cy="619.8" r="1.9"/><circle cx="598.9" cy="618.5" r="1.9"/><circle cx="616.8" cy="617.8" r="1.9"/><circle cx="634.7" cy="617.5" r="1.9"/></g>
<path d="M463.2,615.4C465.2,615.3 471.6,615.2 475.6,615.0C479.5,614.7 484.0,614.1 488.0,613.8C491.9,613.5 496.4,613.1 500.3,612.9C504.3,612.7 508.7,612.7 512.7,612.5C516.7,612.4 521.3,612.2 525.3,612.1C529.3,612.0 533.9,611.9 537.9,611.8C541.9,611.7 546.5,611.6 550.5,611.4C554.5,611.3 558.2,611.0 563.1,610.9C568.0,610.9 575.3,610.7 581.0,611.0C586.7,611.2 593.2,612.0 598.9,612.6C604.6,613.1 611.1,613.9 616.8,614.3C622.5,614.8 631.8,615.2 634.7,615.4" fill="none" stroke="#e64b34" stroke-width="0.9"/>
<g fill="#e64b34"><circle cx="463.2" cy="615.4" r="1.9"/><circle cx="475.6" cy="615.0" r="1.9"/><circle cx="488.0" cy="613.8" r="1.9"/><circle cx="500.3" cy="612.9" r="1.9"/><circle cx="512.7" cy="612.5" r="1.9"/><circle cx="525.3" cy="612.1" r="1.9"/><circle cx="537.9" cy="611.8" r="1.9"/><circle cx="550.5" cy="611.4" r="1.9"/><circle cx="563.1" cy="610.9" r="1.9"/><circle cx="581.0" cy="611.0" r="1.9"/><circle cx="598.9" cy="612.6" r="1.9"/><circle cx="616.8" cy="614.3" r="1.9"/><circle cx="634.7" cy="615.4" r="1.9"/></g>
<path d="M463.2,611.1C465.2,611.2 471.6,611.5 475.6,611.8C479.5,612.0 484.0,612.5 488.0,612.9C491.9,613.2 496.4,613.6 500.3,613.7C504.3,613.9 508.7,613.8 512.7,613.9C516.7,614.0 521.3,614.5 525.3,614.6C529.3,614.6 533.9,614.1 537.9,614.1C541.9,614.2 546.5,614.9 550.5,615.0C554.5,615.2 558.2,615.2 563.1,615.1C568.0,614.9 575.3,614.3 581.0,614.1C586.7,613.8 593.2,613.7 598.9,613.2C604.6,612.8 611.1,611.5 616.8,611.2C622.5,610.8 631.8,611.1 634.7,611.1" fill="none" stroke="#e64a34" stroke-width="0.9"/>
<g fill="#e64a34"><circle cx="463.2" cy="611.1" r="1.9"/><circle cx="475.6" cy="611.8" r="1.9"/><circle cx="488.0" cy="612.9" r="1.9"/><circle cx="500.3" cy="613.7" r="1.9"/><circle cx="512.7" cy="613.9" r="1.9"/><circle cx="525.3" cy="614.6" r="1.9"/><circle cx="537.9" cy="614.1" r="1.9"/><circle cx="550.5" cy="615.0" r="1.9"/><circle cx="563.1" cy="615.1" r="1.9"/><circle cx="581.0" cy="614.1" r="1.9"/><circle cx="598.9" cy="613.2" r="1.9"/><circle cx="616.8" cy="611.2" r="1.9"/><circle cx="634.7" cy="611.1" r="1.9"/></g>
<path d="M463.2,610.6C465.2,610.6 471.6,611.0 475.6,610.8C479.5,610.6 484.0,610.0 488.0,609.5C491.9,609.0 496.4,607.9 500.3,607.6C504.3,607.4 508.7,607.7 512.7,607.7C516.7,607.8 521.3,608.0 525.3,608.1C529.3,608.1 533.9,607.9 537.9,608.2C541.9,608.4 546.5,609.3 550.5,609.6C554.5,609.9 558.2,609.6 563.1,609.8C568.0,609.9 575.3,610.4 581.0,610.4C586.7,610.5 593.2,610.1 598.9,610.0C604.6,610.0 611.1,610.0 616.8,610.1C622.5,610.2 631.8,610.5 634.7,610.6" fill="none" stroke="#ed5939" stroke-width="0.9"/>
<g fill="#ed5939"><circle cx="463.2" cy="610.6" r="1.9"/><circle cx="475.6" cy="610.8" r="1.9"/><circle cx="488.0" cy="609.5" r="1.9"/><circle cx="500.3" cy="607.6" r="1.9"/><circle cx="512.7" cy="607.7" r="1.9"/><circle cx="525.3" cy="608.1" r="1.9"/><circle cx="537.9" cy="608.2" r="1.9"/><circle cx="550.5" cy="609.6" r="1.9"/><circle cx="563.1" cy="609.8" r="1.9"/><circle cx="581.0" cy="610.4" r="1.9"/><circle cx="598.9" cy="610.0" r="1.9"/><circle cx="616.8" cy="610.1" r="1.9"/><circle cx="634.7" cy="610.6" r="1.9"/></g>
<path d="M463.2,608.4C465.2,608.5 471.6,609.0 475.6,609.2C479.5,609.4 484.0,609.6 488.0,609.6C491.9,609.7 496.4,609.5 500.3,609.6C504.3,609.7 508.7,610.5 512.7,610.5C516.7,610.5 521.3,609.8 525.3,609.6C529.3,609.4 533.9,609.5 537.9,609.2C541.9,608.9 546.5,608.2 550.5,607.9C554.5,607.5 558.2,607.1 563.1,607.0C568.0,607.0 575.3,607.5 581.0,607.7C586.7,607.9 593.2,608.2 598.9,608.3C604.6,608.3 611.1,607.8 616.8,607.8C622.5,607.9 631.8,608.3 634.7,608.4" fill="none" stroke="#ee5d3b" stroke-width="0.9"/>
<g fill="#ee5d3b"><circle cx="463.2" cy="608.4" r="1.9"/><circle cx="475.6" cy="609.2" r="1.9"/><circle cx="488.0" cy="609.6" r="1.9"/><circle cx="500.3" cy="609.6" r="1.9"/><circle cx="512.7" cy="610.5" r="1.9"/><circle cx="525.3" cy="609.6" r="1.9"/><circle cx="537.9" cy="609.2" r="1.9"/><circle cx="550.5" cy="607.9" r="1.9"/><circle cx="563.1" cy="607.0" r="1.9"/><circle cx="581.0" cy="607.7" r="1.9"/><circle cx="598.9" cy="608.3" r="1.9"/><circle cx="616.8" cy="607.8" r="1.9"/><circle cx="634.7" cy="608.4" r="1.9"/></g>
<path d="M463.2,606.4C465.2,606.3 471.6,606.2 475.6,606.1C479.5,606.0 484.0,605.8 488.0,605.7C491.9,605.7 496.4,605.7 500.3,605.6C504.3,605.4 508.7,605.1 512.7,605.0C516.7,604.9 521.3,604.8 525.3,605.1C529.3,605.4 533.9,606.5 537.9,606.8C541.9,607.1 546.5,607.0 550.5,607.1C554.5,607.3 558.2,607.6 563.1,607.7C568.0,607.9 575.3,608.1 581.0,608.0C586.7,607.9 593.2,607.3 598.9,607.1C604.6,607.0 611.1,607.0 616.8,606.9C622.5,606.8 631.8,606.4 634.7,606.4" fill="none" stroke="#f06b40" stroke-width="0.9"/>
<g fill="#f06b40"><circle cx="463.2" cy="606.4" r="1.9"/><circle cx="475.6" cy="606.1" r="1.9"/><circle cx="488.0" cy="605.7" r="1.9"/><circle cx="500.3" cy="605.6" r="1.9"/><circle cx="512.7" cy="605.0" r="1.9"/><circle cx="525.3" cy="605.1" r="1.9"/><circle cx="537.9" cy="606.8" r="1.9"/><circle cx="550.5" cy="607.1" r="1.9"/><circle cx="563.1" cy="607.7" r="1.9"/><circle cx="581.0" cy="608.0" r="1.9"/><circle cx="598.9" cy="607.1" r="1.9"/><circle cx="616.8" cy="606.9" r="1.9"/><circle cx="634.7" cy="606.4" r="1.9"/></g>
<path d="M463.2,605.0C465.2,604.9 471.6,604.6 475.6,604.7C479.5,604.8 484.0,605.3 488.0,605.6C491.9,606.0 496.4,606.8 500.3,607.0C504.3,607.2 508.7,607.1 512.7,607.0C516.7,606.9 521.3,606.4 525.3,606.3C529.3,606.2 533.9,606.6 537.9,606.4C541.9,606.3 546.5,605.7 550.5,605.5C554.5,605.3 558.2,605.3 563.1,605.1C568.0,605.0 575.3,604.7 581.0,604.7C586.7,604.6 593.2,604.7 598.9,604.9C604.6,605.0 611.1,605.5 616.8,605.5C622.5,605.5 631.8,605.1 634.7,605.0" fill="none" stroke="#f17043" stroke-width="0.9"/>
<g fill="#f17043"><circle cx="463.2" cy="605.0" r="1.9"/><circle cx="475.6" cy="604.7" r="1.9"/><circle cx="488.0" cy="605.6" r="1.9"/><circle cx="500.3" cy="607.0" r="1.9"/><circle cx="512.7" cy="607.0" r="1.9"/><circle cx="525.3" cy="606.3" r="1.9"/><circle cx="537.9" cy="606.4" r="1.9"/><circle cx="550.5" cy="605.5" r="1.9"/><circle cx="563.1" cy="605.1" r="1.9"/><circle cx="581.0" cy="604.7" r="1.9"/><circle cx="598.9" cy="604.9" r="1.9"/><circle cx="616.8" cy="605.5" r="1.9"/><circle cx="634.7" cy="605.0" r="1.9"/></g>
<path d="M463.2,601.8C465.2,601.8 471.6,602.0 475.6,601.8C479.5,601.7 484.0,601.3 488.0,601.0C491.9,600.6 496.4,599.7 500.3,599.5C504.3,599.3 508.7,599.4 512.7,599.5C516.7,599.6 521.3,599.9 525.3,600.1C529.3,600.4 533.9,600.8 537.9,601.1C541.9,601.5 546.5,602.2 550.5,602.4C554.5,602.5 558.2,602.2 563.1,602.2C568.0,602.3 575.3,602.7 581.0,602.7C586.7,602.6 593.2,602.0 598.9,601.9C604.6,601.9 611.1,602.2 616.8,602.2C622.5,602.2 631.8,601.9 634.7,601.8" fill="none" stroke="#f48a4d" stroke-width="0.9"/>
<g fill="#f48a4d"><circle cx="463.2" cy="601.8" r="1.9"/><circle cx="475.6" cy="601.8" r="1.9"/><circle cx="488.0" cy="601.0" r="1.9"/><circle cx="500.3" cy="599.5" r="1.9"/><circle cx="512.7" cy="599.5" r="1.9"/><circle cx="525.3" cy="600.1" r="1.9"/><circle cx="537.9" cy="601.1" r="1.9"/><circle cx="550.5" cy="602.4" r="1.9"/><circle cx="563.1" cy="602.2" r="1.9"/><circle cx="581.0" cy="602.7" r="1.9"/><circle cx="598.9" cy="601.9" r="1.9"/><circle cx="616.8" cy="602.2" r="1.9"/><circle cx="634.7" cy="601.8" r="1.9"/></g>
<path d="M463.2,599.5C465.2,599.6 471.6,599.8 475.6,600.0C479.5,600.2 484.0,600.5 488.0,600.7C491.9,600.8 496.4,600.6 500.3,600.8C504.3,601.0 508.7,601.6 512.7,601.7C516.7,601.8 521.3,601.5 525.3,601.3C529.3,601.0 533.9,600.6 537.9,600.2C541.9,599.8 546.5,599.0 550.5,598.8C554.5,598.6 558.2,598.7 563.1,598.8C568.0,598.9 575.3,599.2 581.0,599.3C586.7,599.4 593.2,599.7 598.9,599.6C604.6,599.5 611.1,598.9 616.8,598.9C622.5,598.9 631.8,599.4 634.7,599.5" fill="none" stroke="#f59351" stroke-width="0.9"/>
<g fill="#f59351"><circle cx="463.2" cy="599.5" r="1.9"/><circle cx="475.6" cy="600.0" r="1.9"/><circle cx="488.0" cy="600.7" r="1.9"/><circle cx="500.3" cy="600.8" r="1.9"/><circle cx="512.7" cy="601.7" r="1.9"/><circle cx="525.3" cy="601.3" r="1.9"/><circle cx="537.9" cy="600.2" r="1.9"/><circle cx="550.5" cy="598.8" r="1.9"/><circle cx="563.1" cy="598.8" r="1.9"/><circle cx="581.0" cy="599.3" r="1.9"/><circle cx="598.9" cy="599.6" r="1.9"/><circle cx="616.8" cy="598.9" r="1.9"/><circle cx="634.7" cy="599.5" r="1.9"/></g>
<path d="M463.2,597.4C465.2,597.5 471.6,597.6 475.6,597.6C479.5,597.5 484.0,597.4 488.0,597.1C491.9,596.9 496.4,596.2 500.3,596.0C504.3,595.8 508.7,596.1 512.7,596.1C516.7,596.1 521.3,595.6 525.3,595.8C529.3,596.1 533.9,597.2 537.9,597.5C541.9,597.7 546.5,597.2 550.5,597.3C554.5,597.4 558.2,598.1 563.1,598.1C568.0,598.2 575.3,597.6 581.0,597.6C586.7,597.5 593.2,597.6 598.9,597.7C604.6,597.7 611.1,597.7 616.8,597.6C622.5,597.6 631.8,597.5 634.7,597.4" fill="none" stroke="#f7a256" stroke-width="0.9"/>
<g fill="#f7a256"><circle cx="463.2" cy="597.4" r="1.9"/><circle cx="475.6" cy="597.6" r="1.9"/><circle cx="488.0" cy="597.1" r="1.9"/><circle cx="500.3" cy="596.0" r="1.9"/><circle cx="512.7" cy="596.1" r="1.9"/><circle cx="525.3" cy="595.8" r="1.9"/><circle cx="537.9" cy="597.5" r="1.9"/><circle cx="550.5" cy="597.3" r="1.9"/><circle cx="563.1" cy="598.1" r="1.9"/><circle cx="581.0" cy="597.6" r="1.9"/><circle cx="598.9" cy="597.7" r="1.9"/><circle cx="616.8" cy="597.6" r="1.9"/><circle cx="634.7" cy="597.4" r="1.9"/></g>
<path d="M463.2,595.4C465.2,595.5 471.6,596.2 475.6,596.3C479.5,596.3 484.0,595.7 488.0,595.9C491.9,596.0 496.4,597.2 500.3,597.5C504.3,597.7 508.7,597.5 512.7,597.4C516.7,597.4 521.3,597.0 525.3,596.9C529.3,596.8 533.9,597.0 537.9,596.8C541.9,596.5 546.5,595.6 550.5,595.4C554.5,595.2 558.2,595.5 563.1,595.5C568.0,595.5 575.3,595.4 581.0,595.4C586.7,595.4 593.2,595.6 598.9,595.7C604.6,595.8 611.1,595.9 616.8,595.8C622.5,595.8 631.8,595.5 634.7,595.4" fill="none" stroke="#f7a858" stroke-width="0.9"/>
<g fill="#f7a858"><circle cx="463.2" cy="595.4" r="1.9"/><circle cx="475.6" cy="596.3" r="1.9"/><circle cx="488.0" cy="595.9" r="1.9"/><circle cx="500.3" cy="597.5" r="1.9"/><circle cx="512.7" cy="597.4" r="1.9"/><circle cx="525.3" cy="596.9" r="1.9"/><circle cx="537.9" cy="596.8" r="1.9"/><circle cx="550.5" cy="595.4" r="1.9"/><circle cx="563.1" cy="595.5" r="1.9"/><circle cx="581.0" cy="595.4" r="1.9"/><circle cx="598.9" cy="595.7" r="1.9"/><circle cx="616.8" cy="595.8" r="1.9"/><circle cx="634.7" cy="595.4" r="1.9"/></g>
<path d="M463.2,592.2C465.2,592.3 471.6,592.6 475.6,592.4C479.5,592.3 484.0,591.8 488.0,591.4C491.9,591.1 496.4,590.4 500.3,590.2C504.3,589.9 508.7,590.0 512.7,589.9C516.7,589.9 521.3,589.7 525.3,589.9C529.3,590.1 533.9,590.7 537.9,591.1C541.9,591.6 546.5,592.3 550.5,592.5C554.5,592.8 558.2,592.7 563.1,592.7C568.0,592.6 575.3,592.1 581.0,592.1C586.7,592.1 593.2,592.7 598.9,592.8C604.6,592.9 611.1,593.0 616.8,592.9C622.5,592.8 631.8,592.3 634.7,592.2" fill="none" stroke="#f9bf60" stroke-width="0.9"/>
<g fill="#f9bf60"><circle cx="463.2" cy="592.2" r="1.9"/><circle cx="475.6" cy="592.4" r="1.9"/><circle cx="488.0" cy="591.4" r="1.9"/><circle cx="500.3" cy="590.2" r="1.9"/><circle cx="512.7" cy="589.9" r="1.9"/><circle cx="525.3" cy="589.9" r="1.9"/><circle cx="537.9" cy="591.1" r="1.9"/><circle cx="550.5" cy="592.5" r="1.9"/><circle cx="563.1" cy="592.7" r="1.9"/><circle cx="581.0" cy="592.1" r="1.9"/><circle cx="598.9" cy="592.8" r="1.9"/><circle cx="616.8" cy="592.9" r="1.9"/><circle cx="634.7" cy="592.2" r="1.9"/></g>
<path d="M463.2,589.9C465.2,590.0 471.6,590.0 475.6,590.2C479.5,590.4 484.0,590.9 488.0,591.1C491.9,591.3 496.4,591.5 500.3,591.5C504.3,591.5 508.7,591.4 512.7,591.3C516.7,591.2 521.3,591.3 525.3,591.0C529.3,590.8 533.9,590.1 537.9,589.8C541.9,589.6 546.5,589.6 550.5,589.4C554.5,589.2 558.2,588.6 563.1,588.5C568.0,588.5 575.3,588.9 581.0,588.9C586.7,588.9 593.2,588.7 598.9,588.7C604.6,588.8 611.1,588.9 616.8,589.1C622.5,589.3 631.8,589.8 634.7,589.9" fill="none" stroke="#fac963" stroke-width="0.9"/>
<g fill="#fac963"><circle cx="463.2" cy="589.9" r="1.9"/><circle cx="475.6" cy="590.2" r="1.9"/><circle cx="488.0" cy="591.1" r="1.9"/><circle cx="500.3" cy="591.5" r="1.9"/><circle cx="512.7" cy="591.3" r="1.9"/><circle cx="525.3" cy="591.0" r="1.9"/><circle cx="537.9" cy="589.8" r="1.9"/><circle cx="550.5" cy="589.4" r="1.9"/><circle cx="563.1" cy="588.5" r="1.9"/><circle cx="581.0" cy="588.9" r="1.9"/><circle cx="598.9" cy="588.7" r="1.9"/><circle cx="616.8" cy="589.1" r="1.9"/><circle cx="634.7" cy="589.9" r="1.9"/></g>
<path d="M463.2,587.9C465.2,587.8 471.6,587.5 475.6,587.3C479.5,587.1 484.0,586.9 488.0,586.7C491.9,586.6 496.4,586.7 500.3,586.5C504.3,586.4 508.7,585.8 512.7,585.8C516.7,585.8 521.3,586.4 525.3,586.7C529.3,586.9 533.9,587.4 537.9,587.4C541.9,587.5 546.5,587.0 550.5,587.1C554.5,587.1 558.2,587.8 563.1,587.9C568.0,587.9 575.3,587.7 581.0,587.6C586.7,587.5 593.2,587.2 598.9,587.3C604.6,587.4 611.1,588.4 616.8,588.4C622.5,588.5 631.8,588.0 634.7,587.9" fill="none" stroke="#fad472" stroke-width="0.9"/>
<g fill="#fad472"><circle cx="463.2" cy="587.9" r="1.9"/><circle cx="475.6" cy="587.3" r="1.9"/><circle cx="488.0" cy="586.7" r="1.9"/><circle cx="500.3" cy="586.5" r="1.9"/><circle cx="512.7" cy="585.8" r="1.9"/><circle cx="525.3" cy="586.7" r="1.9"/><circle cx="537.9" cy="587.4" r="1.9"/><circle cx="550.5" cy="587.1" r="1.9"/><circle cx="563.1" cy="587.9" r="1.9"/><circle cx="581.0" cy="587.6" r="1.9"/><circle cx="598.9" cy="587.3" r="1.9"/><circle cx="616.8" cy="588.4" r="1.9"/><circle cx="634.7" cy="587.9" r="1.9"/></g>
<path d="M463.2,585.1C465.2,585.2 471.6,585.3 475.6,585.4C479.5,585.6 484.0,585.6 488.0,585.9C491.9,586.1 496.4,586.9 500.3,587.1C504.3,587.3 508.7,587.3 512.7,587.2C516.7,587.0 521.3,586.3 525.3,586.3C529.3,586.2 533.9,586.9 537.9,586.7C541.9,586.6 546.5,585.7 550.5,585.5C554.5,585.2 558.2,585.3 563.1,585.3C568.0,585.2 575.3,585.0 581.0,584.9C586.7,584.9 593.2,584.7 598.9,584.7C604.6,584.7 611.1,584.8 616.8,584.8C622.5,584.9 631.8,585.1 634.7,585.1" fill="none" stroke="#f9d97f" stroke-width="0.9"/>
<g fill="#f9d97f"><circle cx="463.2" cy="585.1" r="1.9"/><circle cx="475.6" cy="585.4" r="1.9"/><circle cx="488.0" cy="585.9" r="1.9"/><circle cx="500.3" cy="587.1" r="1.9"/><circle cx="512.7" cy="587.2" r="1.9"/><circle cx="525.3" cy="586.3" r="1.9"/><circle cx="537.9" cy="586.7" r="1.9"/><circle cx="550.5" cy="585.5" r="1.9"/><circle cx="563.1" cy="585.3" r="1.9"/><circle cx="581.0" cy="584.9" r="1.9"/><circle cx="598.9" cy="584.7" r="1.9"/><circle cx="616.8" cy="584.8" r="1.9"/><circle cx="634.7" cy="585.1" r="1.9"/></g>
<path d="M463.2,581.0C465.2,580.9 471.6,580.6 475.6,580.3C479.5,580.1 484.0,579.6 488.0,579.5C491.9,579.3 496.4,579.5 500.3,579.4C504.3,579.4 508.7,579.0 512.7,579.0C516.7,578.9 521.3,579.0 525.3,579.1C529.3,579.3 533.9,579.6 537.9,579.8C541.9,580.1 546.5,580.5 550.5,580.8C554.5,581.1 558.2,581.6 563.1,581.7C568.0,581.8 575.3,581.8 581.0,581.7C586.7,581.6 593.2,581.2 598.9,581.0C604.6,580.8 611.1,580.7 616.8,580.7C622.5,580.7 631.8,581.0 634.7,581.0" fill="none" stroke="#f6ebac" stroke-width="0.9"/>
<g fill="#f6ebac"><circle cx="463.2" cy="581.0" r="1.9"/><circle cx="475.6" cy="580.3" r="1.9"/><circle cx="488.0" cy="579.5" r="1.9"/><circle cx="500.3" cy="579.4" r="1.9"/><circle cx="512.7" cy="579.0" r="1.9"/><circle cx="525.3" cy="579.1" r="1.9"/><circle cx="537.9" cy="579.8" r="1.9"/><circle cx="550.5" cy="580.8" r="1.9"/><circle cx="563.1" cy="581.7" r="1.9"/><circle cx="581.0" cy="581.7" r="1.9"/><circle cx="598.9" cy="581.0" r="1.9"/><circle cx="616.8" cy="580.7" r="1.9"/><circle cx="634.7" cy="581.0" r="1.9"/></g>
<path d="M463.2,577.6C465.2,577.6 471.6,577.6 475.6,577.7C479.5,577.9 484.0,578.6 488.0,578.8C491.9,579.1 496.4,579.2 500.3,579.4C504.3,579.5 508.7,579.8 512.7,579.8C516.7,579.8 521.3,579.4 525.3,579.2C529.3,579.1 533.9,579.2 537.9,578.9C541.9,578.6 546.5,577.6 550.5,577.3C554.5,577.0 558.2,577.2 563.1,577.0C568.0,576.9 575.3,576.5 581.0,576.5C586.7,576.5 593.2,576.7 598.9,576.8C604.6,577.0 611.1,577.1 616.8,577.2C622.5,577.3 631.8,577.5 634.7,577.6" fill="none" stroke="#f3f0be" stroke-width="0.9"/>
<g fill="#f3f0be"><circle cx="463.2" cy="577.6" r="1.9"/><circle cx="475.6" cy="577.7" r="1.9"/><circle cx="488.0" cy="578.8" r="1.9"/><circle cx="500.3" cy="579.4" r="1.9"/><circle cx="512.7" cy="579.8" r="1.9"/><circle cx="525.3" cy="579.2" r="1.9"/><circle cx="537.9" cy="578.9" r="1.9"/><circle cx="550.5" cy="577.3" r="1.9"/><circle cx="563.1" cy="577.0" r="1.9"/><circle cx="581.0" cy="576.5" r="1.9"/><circle cx="598.9" cy="576.8" r="1.9"/><circle cx="616.8" cy="577.2" r="1.9"/><circle cx="634.7" cy="577.6" r="1.9"/></g>
<path d="M463.2,573.5C465.2,573.5 471.6,573.3 475.6,573.5C479.5,573.6 484.0,574.1 488.0,574.4C491.9,574.7 496.4,575.1 500.3,575.3C504.3,575.5 508.7,575.6 512.7,575.5C516.7,575.5 521.3,574.9 525.3,574.9C529.3,574.9 533.9,575.5 537.9,575.4C541.9,575.3 546.5,574.3 550.5,574.2C554.5,574.0 558.2,574.2 563.1,574.3C568.0,574.4 575.3,574.8 581.0,574.8C586.7,574.7 593.2,573.9 598.9,573.8C604.6,573.6 611.1,573.7 616.8,573.6C622.5,573.6 631.8,573.5 634.7,573.5" fill="none" stroke="#eaf0d5" stroke-width="0.9"/>
<g fill="#eaf0d5"><circle cx="463.2" cy="573.5" r="1.9"/><circle cx="475.6" cy="573.5" r="1.9"/><circle cx="488.0" cy="574.4" r="1.9"/><circle cx="500.3" cy="575.3" r="1.9"/><circle cx="512.7" cy="575.5" r="1.9"/><circle cx="525.3" cy="574.9" r="1.9"/><circle cx="537.9" cy="575.4" r="1.9"/><circle cx="550.5" cy="574.2" r="1.9"/><circle cx="563.1" cy="574.3" r="1.9"/><circle cx="581.0" cy="574.8" r="1.9"/><circle cx="598.9" cy="573.8" r="1.9"/><circle cx="616.8" cy="573.6" r="1.9"/><circle cx="634.7" cy="573.5" r="1.9"/></g>
<path d="M463.2,566.8C465.2,566.7 471.6,566.4 475.6,566.3C479.5,566.2 484.0,566.2 488.0,566.0C491.9,565.9 496.4,565.5 500.3,565.3C504.3,565.2 508.7,565.3 512.7,565.3C516.7,565.2 521.3,564.8 525.3,565.1C529.3,565.3 533.9,566.2 537.9,566.7C541.9,567.1 546.5,567.6 550.5,567.7C554.5,567.9 558.2,567.5 563.1,567.4C568.0,567.4 575.3,567.7 581.0,567.6C586.7,567.5 593.2,566.9 598.9,566.9C604.6,566.8 611.1,567.2 616.8,567.2C622.5,567.2 631.8,566.8 634.7,566.8" fill="none" stroke="#cee7ef" stroke-width="0.9"/>
<g fill="#cee7ef"><circle cx="463.2" cy="566.8" r="1.9"/><circle cx="475.6" cy="566.3" r="1.9"/><circle cx="488.0" cy="566.0" r="1.9"/><circle cx="500.3" cy="565.3" r="1.9"/><circle cx="512.7" cy="565.3" r="1.9"/><circle cx="525.3" cy="565.1" r="1.9"/><circle cx="537.9" cy="566.7" r="1.9"/><circle cx="550.5" cy="567.7" r="1.9"/><circle cx="563.1" cy="567.4" r="1.9"/><circle cx="581.0" cy="567.6" r="1.9"/><circle cx="598.9" cy="566.9" r="1.9"/><circle cx="616.8" cy="567.2" r="1.9"/><circle cx="634.7" cy="566.8" r="1.9"/></g>
<path d="M463.2,565.3C465.2,565.2 471.6,564.9 475.6,565.0C479.5,565.1 484.0,565.7 488.0,565.9C491.9,566.2 496.4,566.7 500.3,566.8C504.3,567.0 508.7,567.1 512.7,567.0C516.7,566.9 521.3,566.4 525.3,566.3C529.3,566.2 533.9,566.6 537.9,566.4C541.9,566.3 546.5,565.6 550.5,565.4C554.5,565.3 558.2,565.3 563.1,565.4C568.0,565.4 575.3,565.7 581.0,565.7C586.7,565.7 593.2,565.5 598.9,565.4C604.6,565.3 611.1,564.9 616.8,564.9C622.5,564.9 631.8,565.2 634.7,565.3" fill="none" stroke="#c9e5ee" stroke-width="0.9"/>
<g fill="#c9e5ee"><circle cx="463.2" cy="565.3" r="1.9"/><circle cx="475.6" cy="565.0" r="1.9"/><circle cx="488.0" cy="565.9" r="1.9"/><circle cx="500.3" cy="566.8" r="1.9"/><circle cx="512.7" cy="567.0" r="1.9"/><circle cx="525.3" cy="566.3" r="1.9"/><circle cx="537.9" cy="566.4" r="1.9"/><circle cx="550.5" cy="565.4" r="1.9"/><circle cx="563.1" cy="565.4" r="1.9"/><circle cx="581.0" cy="565.7" r="1.9"/><circle cx="598.9" cy="565.4" r="1.9"/><circle cx="616.8" cy="564.9" r="1.9"/><circle cx="634.7" cy="565.3" r="1.9"/></g>
<path d="M463.2,559.9C465.2,559.8 471.6,559.3 475.6,559.1C479.5,559.0 484.0,559.1 488.0,559.0C491.9,558.8 496.4,558.1 500.3,557.9C504.3,557.7 508.7,557.7 512.7,557.7C516.7,557.8 521.3,558.1 525.3,558.3C529.3,558.6 533.9,559.3 537.9,559.5C541.9,559.8 546.5,559.9 550.5,560.1C554.5,560.2 558.2,560.5 563.1,560.5C568.0,560.4 575.3,560.1 581.0,560.0C586.7,559.8 593.2,559.8 598.9,559.8C604.6,559.7 611.1,559.7 616.8,559.7C622.5,559.8 631.8,559.9 634.7,559.9" fill="none" stroke="#a2cde3" stroke-width="0.9"/>
<g fill="#a2cde3"><circle cx="463.2" cy="559.9" r="1.9"/><circle cx="475.6" cy="559.1" r="1.9"/><circle cx="488.0" cy="559.0" r="1.9"/><circle cx="500.3" cy="557.9" r="1.9"/><circle cx="512.7" cy="557.7" r="1.9"/><circle cx="525.3" cy="558.3" r="1.9"/><circle cx="537.9" cy="559.5" r="1.9"/><circle cx="550.5" cy="560.1" r="1.9"/><circle cx="563.1" cy="560.5" r="1.9"/><circle cx="581.0" cy="560.0" r="1.9"/><circle cx="598.9" cy="559.8" r="1.9"/><circle cx="616.8" cy="559.7" r="1.9"/><circle cx="634.7" cy="559.9" r="1.9"/></g>
<path d="M463.2,557.7C465.2,557.8 471.6,558.1 475.6,558.3C479.5,558.5 484.0,559.0 488.0,559.2C491.9,559.4 496.4,559.4 500.3,559.5C504.3,559.6 508.7,559.8 512.7,559.8C516.7,559.8 521.3,559.8 525.3,559.6C529.3,559.5 533.9,559.1 537.9,558.8C541.9,558.4 546.5,557.8 550.5,557.5C554.5,557.3 558.2,557.1 563.1,557.0C568.0,556.9 575.3,556.9 581.0,557.0C586.7,557.0 593.2,557.2 598.9,557.4C604.6,557.5 611.1,557.8 616.8,557.8C622.5,557.9 631.8,557.7 634.7,557.7" fill="none" stroke="#9bc8e0" stroke-width="0.9"/>
<g fill="#9bc8e0"><circle cx="463.2" cy="557.7" r="1.9"/><circle cx="475.6" cy="558.3" r="1.9"/><circle cx="488.0" cy="559.2" r="1.9"/><circle cx="500.3" cy="559.5" r="1.9"/><circle cx="512.7" cy="559.8" r="1.9"/><circle cx="525.3" cy="559.6" r="1.9"/><circle cx="537.9" cy="558.8" r="1.9"/><circle cx="550.5" cy="557.5" r="1.9"/><circle cx="563.1" cy="557.0" r="1.9"/><circle cx="581.0" cy="557.0" r="1.9"/><circle cx="598.9" cy="557.4" r="1.9"/><circle cx="616.8" cy="557.8" r="1.9"/><circle cx="634.7" cy="557.7" r="1.9"/></g>
<path d="M463.2,555.7C465.2,555.5 471.6,555.0 475.6,554.9C479.5,554.8 484.0,555.0 488.0,555.0C491.9,555.1 496.4,555.1 500.3,555.0C504.3,554.9 508.7,554.3 512.7,554.3C516.7,554.3 521.3,555.1 525.3,555.2C529.3,555.3 533.9,554.6 537.9,554.9C541.9,555.1 546.5,556.4 550.5,556.6C554.5,556.9 558.2,556.4 563.1,556.3C568.0,556.2 575.3,556.1 581.0,556.0C586.7,555.9 593.2,555.9 598.9,555.9C604.6,555.9 611.1,556.0 616.8,556.0C622.5,556.0 631.8,555.7 634.7,555.7" fill="none" stroke="#89b9da" stroke-width="0.9"/>
<g fill="#89b9da"><circle cx="463.2" cy="555.7" r="1.9"/><circle cx="475.6" cy="554.9" r="1.9"/><circle cx="488.0" cy="555.0" r="1.9"/><circle cx="500.3" cy="555.0" r="1.9"/><circle cx="512.7" cy="554.3" r="1.9"/><circle cx="525.3" cy="555.2" r="1.9"/><circle cx="537.9" cy="554.9" r="1.9"/><circle cx="550.5" cy="556.6" r="1.9"/><circle cx="563.1" cy="556.3" r="1.9"/><circle cx="581.0" cy="556.0" r="1.9"/><circle cx="598.9" cy="555.9" r="1.9"/><circle cx="616.8" cy="556.0" r="1.9"/><circle cx="634.7" cy="555.7" r="1.9"/></g>
<path d="M463.2,552.4C465.2,552.5 471.6,553.0 475.6,553.1C479.5,553.3 484.0,553.4 488.0,553.4C491.9,553.5 496.4,553.5 500.3,553.5C504.3,553.5 508.7,553.5 512.7,553.6C516.7,553.7 521.3,554.1 525.3,553.9C529.3,553.7 533.9,552.4 537.9,552.2C541.9,551.9 546.5,552.3 550.5,552.2C554.5,552.1 558.2,551.6 563.1,551.6C568.0,551.5 575.3,552.0 581.0,552.1C586.7,552.3 593.2,552.5 598.9,552.5C604.6,552.5 611.1,552.1 616.8,552.1C622.5,552.1 631.8,552.3 634.7,552.4" fill="none" stroke="#76aad3" stroke-width="0.9"/>
<g fill="#76aad3"><circle cx="463.2" cy="552.4" r="1.9"/><circle cx="475.6" cy="553.1" r="1.9"/><circle cx="488.0" cy="553.4" r="1.9"/><circle cx="500.3" cy="553.5" r="1.9"/><circle cx="512.7" cy="553.6" r="1.9"/><circle cx="525.3" cy="553.9" r="1.9"/><circle cx="537.9" cy="552.2" r="1.9"/><circle cx="550.5" cy="552.2" r="1.9"/><circle cx="563.1" cy="551.6" r="1.9"/><circle cx="581.0" cy="552.1" r="1.9"/><circle cx="598.9" cy="552.5" r="1.9"/><circle cx="616.8" cy="552.1" r="1.9"/><circle cx="634.7" cy="552.4" r="1.9"/></g>
<path d="M463.2,550.9C465.2,550.8 471.6,550.6 475.6,550.5C479.5,550.4 484.0,550.2 488.0,550.0C491.9,549.8 496.4,549.4 500.3,549.3C504.3,549.2 508.7,549.5 512.7,549.5C516.7,549.5 521.3,549.1 525.3,549.2C529.3,549.4 533.9,549.9 537.9,550.3C541.9,550.7 546.5,551.4 550.5,551.6C554.5,551.8 558.2,551.6 563.1,551.6C568.0,551.5 575.3,551.5 581.0,551.5C586.7,551.5 593.2,551.6 598.9,551.6C604.6,551.6 611.1,551.7 616.8,551.6C622.5,551.5 631.8,551.0 634.7,550.9" fill="none" stroke="#6fa3ce" stroke-width="0.9"/>
<g fill="#6fa3ce"><circle cx="463.2" cy="550.9" r="1.9"/><circle cx="475.6" cy="550.5" r="1.9"/><circle cx="488.0" cy="550.0" r="1.9"/><circle cx="500.3" cy="549.3" r="1.9"/><circle cx="512.7" cy="549.5" r="1.9"/><circle cx="525.3" cy="549.2" r="1.9"/><circle cx="537.9" cy="550.3" r="1.9"/><circle cx="550.5" cy="551.6" r="1.9"/><circle cx="563.1" cy="551.6" r="1.9"/><circle cx="581.0" cy="551.5" r="1.9"/><circle cx="598.9" cy="551.6" r="1.9"/><circle cx="616.8" cy="551.6" r="1.9"/><circle cx="634.7" cy="550.9" r="1.9"/></g>
<path d="M463.2,549.5C465.2,549.5 471.6,549.3 475.6,549.4C479.5,549.6 484.0,550.3 488.0,550.6C491.9,550.8 496.4,550.9 500.3,550.9C504.3,551.0 508.7,550.9 512.7,550.9C516.7,550.8 521.3,551.0 525.3,550.8C529.3,550.6 533.9,549.9 537.9,549.6C541.9,549.3 546.5,549.2 550.5,549.1C554.5,549.0 558.2,548.9 563.1,548.8C568.0,548.8 575.3,548.8 581.0,548.8C586.7,548.8 593.2,548.7 598.9,548.8C604.6,549.0 611.1,549.4 616.8,549.5C622.5,549.6 631.8,549.5 634.7,549.5" fill="none" stroke="#6da0cc" stroke-width="0.9"/>
<g fill="#6da0cc"><circle cx="463.2" cy="549.5" r="1.9"/><circle cx="475.6" cy="549.4" r="1.9"/><circle cx="488.0" cy="550.6" r="1.9"/><circle cx="500.3" cy="550.9" r="1.9"/><circle cx="512.7" cy="550.9" r="1.9"/><circle cx="525.3" cy="550.8" r="1.9"/><circle cx="537.9" cy="549.6" r="1.9"/><circle cx="550.5" cy="549.1" r="1.9"/><circle cx="563.1" cy="548.8" r="1.9"/><circle cx="581.0" cy="548.8" r="1.9"/><circle cx="598.9" cy="548.8" r="1.9"/><circle cx="616.8" cy="549.5" r="1.9"/><circle cx="634.7" cy="549.5" r="1.9"/></g>
<path d="M463.2,548.1C465.2,548.0 471.6,547.5 475.6,547.5C479.5,547.6 484.0,548.4 488.0,548.3C491.9,548.2 496.4,547.1 500.3,547.0C504.3,546.9 508.7,547.4 512.7,547.4C516.7,547.5 521.3,547.2 525.3,547.3C529.3,547.5 533.9,548.3 537.9,548.4C541.9,548.6 546.5,548.4 550.5,548.4C554.5,548.5 558.2,548.6 563.1,548.5C568.0,548.5 575.3,548.4 581.0,548.3C586.7,548.2 593.2,547.8 598.9,547.8C604.6,547.8 611.1,548.3 616.8,548.3C622.5,548.4 631.8,548.2 634.7,548.1" fill="none" stroke="#689ac8" stroke-width="0.9"/>
<g fill="#689ac8"><circle cx="463.2" cy="548.1" r="1.9"/><circle cx="475.6" cy="547.5" r="1.9"/><circle cx="488.0" cy="548.3" r="1.9"/><circle cx="500.3" cy="547.0" r="1.9"/><circle cx="512.7" cy="547.4" r="1.9"/><circle cx="525.3" cy="547.3" r="1.9"/><circle cx="537.9" cy="548.4" r="1.9"/><circle cx="550.5" cy="548.4" r="1.9"/><circle cx="563.1" cy="548.5" r="1.9"/><circle cx="581.0" cy="548.3" r="1.9"/><circle cx="598.9" cy="547.8" r="1.9"/><circle cx="616.8" cy="548.3" r="1.9"/><circle cx="634.7" cy="548.1" r="1.9"/></g>
<path d="M463.2,533.0C465.2,533.0 471.6,532.9 475.6,532.9C479.5,532.9 484.0,533.0 488.0,533.1C491.9,533.1 496.4,533.1 500.3,533.1C504.3,533.2 508.7,533.3 512.7,533.3C516.7,533.4 521.3,533.4 525.3,533.4C529.3,533.4 533.9,533.3 537.9,533.4C541.9,533.4 546.5,533.6 550.5,533.6C554.5,533.6 558.2,533.6 563.1,533.5C568.0,533.5 575.3,533.4 581.0,533.4C586.7,533.3 593.2,533.2 598.9,533.1C604.6,533.1 611.1,533.0 616.8,533.0C622.5,533.0 631.8,533.0 634.7,533.0" fill="none" stroke="#436aa5" stroke-width="0.9"/>
<g fill="#436aa5"><circle cx="463.2" cy="533.0" r="1.9"/><circle cx="475.6" cy="532.9" r="1.9"/><circle cx="488.0" cy="533.1" r="1.9"/><circle cx="500.3" cy="533.1" r="1.9"/><circle cx="512.7" cy="533.3" r="1.9"/><circle cx="525.3" cy="533.4" r="1.9"/><circle cx="537.9" cy="533.4" r="1.9"/><circle cx="550.5" cy="533.6" r="1.9"/><circle cx="563.1" cy="533.5" r="1.9"/><circle cx="581.0" cy="533.4" r="1.9"/><circle cx="598.9" cy="533.1" r="1.9"/><circle cx="616.8" cy="533.0" r="1.9"/><circle cx="634.7" cy="533.0" r="1.9"/></g>
<path d="M463.2,532.5C465.2,532.5 471.6,532.6 475.6,532.5C479.5,532.5 484.0,532.2 488.0,532.1C491.9,532.0 496.4,531.9 500.3,531.9C504.3,531.8 508.7,532.0 512.7,532.0C516.7,532.0 521.3,531.8 525.3,531.9C529.3,531.9 533.9,532.1 537.9,532.2C541.9,532.3 546.5,532.3 550.5,532.3C554.5,532.4 558.2,532.5 563.1,532.5C568.0,532.6 575.3,532.6 581.0,532.6C586.7,532.6 593.2,532.4 598.9,532.4C604.6,532.3 611.1,532.4 616.8,532.4C622.5,532.4 631.8,532.5 634.7,532.5" fill="none" stroke="#4167a3" stroke-width="0.9"/>
<g fill="#4167a3"><circle cx="463.2" cy="532.5" r="1.9"/><circle cx="475.6" cy="532.5" r="1.9"/><circle cx="488.0" cy="532.1" r="1.9"/><circle cx="500.3" cy="531.9" r="1.9"/><circle cx="512.7" cy="532.0" r="1.9"/><circle cx="525.3" cy="531.9" r="1.9"/><circle cx="537.9" cy="532.2" r="1.9"/><circle cx="550.5" cy="532.3" r="1.9"/><circle cx="563.1" cy="532.5" r="1.9"/><circle cx="581.0" cy="532.6" r="1.9"/><circle cx="598.9" cy="532.4" r="1.9"/><circle cx="616.8" cy="532.4" r="1.9"/><circle cx="634.7" cy="532.5" r="1.9"/></g>
<path d="M463.2,529.8C465.2,529.8 471.6,529.9 475.6,529.9C479.5,529.8 484.0,529.7 488.0,529.6C491.9,529.5 496.4,529.4 500.3,529.4C504.3,529.4 508.7,529.4 512.7,529.4C516.7,529.3 521.3,529.2 525.3,529.2C529.3,529.2 533.9,529.2 537.9,529.2C541.9,529.2 546.5,529.3 550.5,529.3C554.5,529.3 558.2,529.1 563.1,529.1C568.0,529.0 575.3,529.0 581.0,529.1C586.7,529.2 593.2,529.5 598.9,529.6C604.6,529.7 611.1,529.5 616.8,529.6C622.5,529.6 631.8,529.7 634.7,529.8" fill="none" stroke="#3e629d" stroke-width="0.9"/>
<g fill="#3e629d"><circle cx="463.2" cy="529.8" r="1.9"/><circle cx="475.6" cy="529.9" r="1.9"/><circle cx="488.0" cy="529.6" r="1.9"/><circle cx="500.3" cy="529.4" r="1.9"/><circle cx="512.7" cy="529.4" r="1.9"/><circle cx="525.3" cy="529.2" r="1.9"/><circle cx="537.9" cy="529.2" r="1.9"/><circle cx="550.5" cy="529.3" r="1.9"/><circle cx="563.1" cy="529.1" r="1.9"/><circle cx="581.0" cy="529.1" r="1.9"/><circle cx="598.9" cy="529.6" r="1.9"/><circle cx="616.8" cy="529.6" r="1.9"/><circle cx="634.7" cy="529.8" r="1.9"/></g>
<path d="M463.2,521.3C465.2,521.3 471.6,521.5 475.6,521.6C479.5,521.7 484.0,521.7 488.0,521.9C491.9,522.1 496.4,522.6 500.3,522.7C504.3,522.8 508.7,522.7 512.7,522.8C516.7,522.8 521.3,523.0 525.3,523.1C529.3,523.1 533.9,523.2 537.9,523.3C541.9,523.3 546.5,523.4 550.5,523.5C554.5,523.6 558.2,523.8 563.1,523.7C568.0,523.7 575.3,523.5 581.0,523.3C586.7,523.0 593.2,522.7 598.9,522.4C604.6,522.2 611.1,521.7 616.8,521.5C622.5,521.3 631.8,521.3 634.7,521.3" fill="none" stroke="#385991" stroke-width="0.9"/>
<g fill="#385991"><circle cx="463.2" cy="521.3" r="1.9"/><circle cx="475.6" cy="521.6" r="1.9"/><circle cx="488.0" cy="521.9" r="1.9"/><circle cx="500.3" cy="522.7" r="1.9"/><circle cx="512.7" cy="522.8" r="1.9"/><circle cx="525.3" cy="523.1" r="1.9"/><circle cx="537.9" cy="523.3" r="1.9"/><circle cx="550.5" cy="523.5" r="1.9"/><circle cx="563.1" cy="523.7" r="1.9"/><circle cx="581.0" cy="523.3" r="1.9"/><circle cx="598.9" cy="522.4" r="1.9"/><circle cx="616.8" cy="521.5" r="1.9"/><circle cx="634.7" cy="521.3" r="1.9"/></g>
</g>
<rect x="463.2" y="514" width="171.50000000000006" height="137.79999999999995" fill="none" stroke="#000" stroke-width="1.2"/>
<text x="458.6" y="641.2" font-size="9.6" fill="#111" text-anchor="end" >0</text>
<text x="458.6" y="613.8" font-size="9.6" fill="#111" text-anchor="end" >400</text>
<text x="458.6" y="586.4" font-size="9.6" fill="#111" text-anchor="end" >800</text>
<text x="458.6" y="559.0" font-size="9.6" fill="#111" text-anchor="end" >1200</text>
<text x="458.6" y="531.6" font-size="9.6" fill="#111" text-anchor="end" >1600</text>
<path d="M512.7,514v3 M563.1,514v3 M463.2,651.8v2 M512.7,651.8v2 M563.1,651.8v2 M634.7,651.8v2 M463.2,638.00h-3.2 M463.2,651.70h-1.8 M463.2,610.60h-3.2 M463.2,624.30h-1.8 M463.2,583.20h-3.2 M463.2,596.90h-1.8 M463.2,555.80h-3.2 M463.2,569.50h-1.8 M463.2,528.40h-3.2 M463.2,542.10h-1.8" stroke="#000" stroke-width="0.7" fill="none"/>
<text x="463.2" y="663.8" font-size="9.8" fill="#111" text-anchor="middle" >Γ</text>
<text x="512.7" y="663.8" font-size="9.8" fill="#111" text-anchor="middle" >M</text>
<text x="563.1" y="663.8" font-size="9.8" fill="#111" text-anchor="middle" >K</text>
<text x="634.2" y="663.8" font-size="9.8" fill="#111" text-anchor="middle" >Γ</text>
<line x1="516.40" y1="645.00" x2="537.50" y2="645.00" stroke="#a8202a" stroke-width="0.9" />
<text x="540.0" y="648.3" font-size="9.6" fill="#111" text-anchor="start" >MLP</text>
<circle cx="571" cy="645" r="2.1" fill="#b8383c"/>
<text x="584.6" y="648.3" font-size="9.6" fill="#111" text-anchor="start" >DFT</text>
<text transform="translate(434.6,583) rotate(-90)" font-size="10" text-anchor="middle" fill="#111">Frequency (cm<tspan dy="-3.5" font-size="6">-1</tspan><tspan dy="3.5">)</tspan></text>
</g>
</svg></body></html>
